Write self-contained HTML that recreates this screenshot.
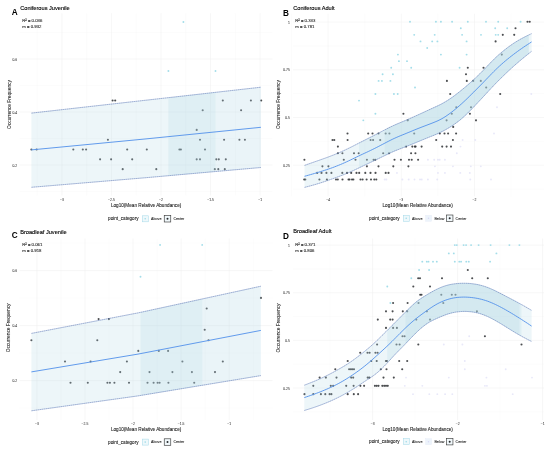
<!DOCTYPE html>
<html lang="en"><head><meta charset="utf-8"><title>Occurrence frequency vs mean relative abundance</title>
<style>html,body{margin:0;padding:0;background:#fff;overflow:hidden}svg{display:block}text{font-family:"Liberation Sans", Arial, sans-serif}</style></head><body>
<svg width="550" height="451" viewBox="0 0 550 451">
<rect width="550" height="451" fill="#fff"/>
<g><line x1="37.13" y1="13.2" x2="37.13" y2="195.5" stroke="#f4f4f4" stroke-width="0.3"/><line x1="86.68" y1="13.2" x2="86.68" y2="195.5" stroke="#f4f4f4" stroke-width="0.3"/><line x1="136.23" y1="13.2" x2="136.23" y2="195.5" stroke="#f4f4f4" stroke-width="0.3"/><line x1="185.78" y1="13.2" x2="185.78" y2="195.5" stroke="#f4f4f4" stroke-width="0.3"/><line x1="235.33" y1="13.2" x2="235.33" y2="195.5" stroke="#f4f4f4" stroke-width="0.3"/><line x1="19.5" y1="191.5" x2="272.5" y2="191.5" stroke="#f4f4f4" stroke-width="0.3"/><line x1="19.5" y1="138.5" x2="272.5" y2="138.5" stroke="#f4f4f4" stroke-width="0.3"/><line x1="19.5" y1="85.5" x2="272.5" y2="85.5" stroke="#f4f4f4" stroke-width="0.3"/><line x1="19.5" y1="32.5" x2="272.5" y2="32.5" stroke="#f4f4f4" stroke-width="0.3"/><line x1="61.9" y1="13.2" x2="61.9" y2="195.5" stroke="#efefef" stroke-width="0.5"/><line x1="111.45" y1="13.2" x2="111.45" y2="195.5" stroke="#efefef" stroke-width="0.5"/><line x1="161" y1="13.2" x2="161" y2="195.5" stroke="#efefef" stroke-width="0.5"/><line x1="210.55" y1="13.2" x2="210.55" y2="195.5" stroke="#efefef" stroke-width="0.5"/><line x1="260.1" y1="13.2" x2="260.1" y2="195.5" stroke="#efefef" stroke-width="0.5"/><line x1="19.5" y1="165" x2="272.5" y2="165" stroke="#efefef" stroke-width="0.5"/><line x1="19.5" y1="112" x2="272.5" y2="112" stroke="#efefef" stroke-width="0.5"/><line x1="19.5" y1="59" x2="272.5" y2="59" stroke="#efefef" stroke-width="0.5"/></g>
<g><circle cx="183.4" cy="22" r="0.95" fill="#9edbe8" fill-opacity="0.95"/><circle cx="168.4" cy="71.05" r="0.95" fill="#9edbe8" fill-opacity="0.95"/><circle cx="215.5" cy="71.05" r="0.95" fill="#9edbe8" fill-opacity="0.95"/><circle cx="31.4" cy="149.53" r="1.05" fill="#24272b" fill-opacity="0.82"/><circle cx="36.6" cy="149.53" r="1.05" fill="#24272b" fill-opacity="0.82"/><circle cx="73.3" cy="149.53" r="1.05" fill="#24272b" fill-opacity="0.82"/><circle cx="82.8" cy="149.53" r="1.05" fill="#24272b" fill-opacity="0.82"/><circle cx="86.1" cy="149.53" r="1.05" fill="#24272b" fill-opacity="0.82"/><circle cx="100.1" cy="159.34" r="1.05" fill="#24272b" fill-opacity="0.82"/><circle cx="107.9" cy="139.72" r="1.05" fill="#24272b" fill-opacity="0.82"/><circle cx="111.1" cy="159.34" r="1.05" fill="#24272b" fill-opacity="0.82"/><circle cx="112.6" cy="100.48" r="1.05" fill="#24272b" fill-opacity="0.82"/><circle cx="115.2" cy="100.48" r="1.05" fill="#24272b" fill-opacity="0.82"/><circle cx="122.7" cy="169.15" r="1.05" fill="#24272b" fill-opacity="0.82"/><circle cx="127.2" cy="149.53" r="1.05" fill="#24272b" fill-opacity="0.82"/><circle cx="132.2" cy="159.34" r="1.05" fill="#24272b" fill-opacity="0.82"/><circle cx="146.8" cy="149.53" r="1.05" fill="#24272b" fill-opacity="0.82"/><circle cx="156.3" cy="169.15" r="1.05" fill="#24272b" fill-opacity="0.82"/><circle cx="179.4" cy="149.53" r="1.05" fill="#24272b" fill-opacity="0.82"/><circle cx="180.9" cy="149.53" r="1.05" fill="#24272b" fill-opacity="0.82"/><circle cx="196.7" cy="129.91" r="1.05" fill="#24272b" fill-opacity="0.82"/><circle cx="196.7" cy="159.34" r="1.05" fill="#24272b" fill-opacity="0.82"/><circle cx="200" cy="139.72" r="1.05" fill="#24272b" fill-opacity="0.82"/><circle cx="200" cy="159.34" r="1.05" fill="#24272b" fill-opacity="0.82"/><circle cx="202.7" cy="110.29" r="1.05" fill="#24272b" fill-opacity="0.82"/><circle cx="205" cy="149.53" r="1.05" fill="#24272b" fill-opacity="0.82"/><circle cx="214.8" cy="169.15" r="1.05" fill="#24272b" fill-opacity="0.82"/><circle cx="216.3" cy="159.34" r="1.05" fill="#24272b" fill-opacity="0.82"/><circle cx="218.3" cy="169.15" r="1.05" fill="#24272b" fill-opacity="0.82"/><circle cx="218.8" cy="159.34" r="1.05" fill="#24272b" fill-opacity="0.82"/><circle cx="222.8" cy="100.48" r="1.05" fill="#24272b" fill-opacity="0.82"/><circle cx="224.1" cy="139.72" r="1.05" fill="#24272b" fill-opacity="0.82"/><circle cx="224.8" cy="169.15" r="1.05" fill="#24272b" fill-opacity="0.82"/><circle cx="225.8" cy="159.34" r="1.05" fill="#24272b" fill-opacity="0.82"/><circle cx="239.4" cy="139.72" r="1.05" fill="#24272b" fill-opacity="0.82"/><circle cx="241.1" cy="110.29" r="1.05" fill="#24272b" fill-opacity="0.82"/><circle cx="244.9" cy="139.72" r="1.05" fill="#24272b" fill-opacity="0.82"/><circle cx="250.9" cy="100.48" r="1.05" fill="#24272b" fill-opacity="0.82"/><circle cx="261.2" cy="100.48" r="1.05" fill="#24272b" fill-opacity="0.82"/></g>
<path d="M31.4 113.1 L146 100.2 L260.9 87.2 L260.9 167.5 L146 177.7 L31.4 187.3 Z" fill="#add8e6" fill-opacity="0.225"/>
<path d="M168.4 97.67 L215.5 92.34 L215.5 171.53 L168.4 175.71 Z" fill="#add8e6" fill-opacity="0.225"/>
<path d="M215.5 92.34 L260.9 87.2 L260.9 167.5 L215.5 171.53 Z" fill="#add8e6" fill-opacity="0.04"/>
<path d="M31.4 113.1 L146 100.2 L260.9 87.2" fill="none" stroke="#5b8fe0" stroke-width="0.3" stroke-opacity="0.9"/>
<path d="M31.4 187.3 L146 177.7 L260.9 167.5" fill="none" stroke="#5b8fe0" stroke-width="0.3" stroke-opacity="0.9"/>
<path d="M31.4 113.1 L146 100.2 L260.9 87.2" fill="none" stroke="#2a2f6e" stroke-width="0.32" stroke-dasharray="1.5 0.6" stroke-opacity="0.85"/>
<path d="M31.4 187.3 L146 177.7 L260.9 167.5" fill="none" stroke="#2a2f6e" stroke-width="0.32" stroke-dasharray="1.5 0.6" stroke-opacity="0.85"/>
<path d="M31.4 149.9 L146 138.9 L260.9 127.3" fill="none" stroke="#5a96eb" stroke-width="0.95"/>
<g><text x="11.8" y="15.2" font-size="8.2" font-weight="bold" fill="#000">A</text><text x="20.2" y="9.7" font-size="5.65" fill="#000" stroke="#000" stroke-width="0.12">Coniferous Juvenile</text><text x="22.2" y="22.1" font-size="4.3" fill="#1a1a1a" stroke="#1a1a1a" stroke-width="0.08">R² = 0.036</text><text x="22.2" y="28.1" font-size="4.3" fill="#1a1a1a" stroke="#1a1a1a" stroke-width="0.08">m = 0.932</text><text x="61.9" y="201" font-size="3.4" fill="#3d3d3d" stroke="#3d3d3d" stroke-width="0.06" text-anchor="middle">−3</text><text x="111.45" y="201" font-size="3.4" fill="#3d3d3d" stroke="#3d3d3d" stroke-width="0.06" text-anchor="middle">−2.5</text><text x="161" y="201" font-size="3.4" fill="#3d3d3d" stroke="#3d3d3d" stroke-width="0.06" text-anchor="middle">−2</text><text x="210.55" y="201" font-size="3.4" fill="#3d3d3d" stroke="#3d3d3d" stroke-width="0.06" text-anchor="middle">−1.5</text><text x="260.1" y="201" font-size="3.4" fill="#3d3d3d" stroke="#3d3d3d" stroke-width="0.06" text-anchor="middle">−1</text><text x="17.2" y="166.6" font-size="3.4" fill="#3d3d3d" stroke="#3d3d3d" stroke-width="0.06" text-anchor="end">0.2</text><text x="17.2" y="113.6" font-size="3.4" fill="#3d3d3d" stroke="#3d3d3d" stroke-width="0.06" text-anchor="end">0.4</text><text x="17.2" y="60.6" font-size="3.4" fill="#3d3d3d" stroke="#3d3d3d" stroke-width="0.06" text-anchor="end">0.6</text><text x="146.1" y="207.2" font-size="4.68" fill="#1a1a1a" stroke="#1a1a1a" stroke-width="0.08" text-anchor="middle">Log10(Mean Relative Abundance)</text><text transform="translate(10.7 104.5) rotate(-90)" font-size="4.8" fill="#1a1a1a" stroke="#1a1a1a" stroke-width="0.08" text-anchor="middle">Occurrence Frequency</text><text x="108.1" y="220.4" font-size="4.65" fill="#1a1a1a" stroke="#1a1a1a" stroke-width="0.08">point_category</text><rect x="142.3" y="215.8" width="6" height="6" fill="#eef8fb" stroke="#a8dbea" stroke-width="0.55"/><circle cx="145.2" cy="218.8" r="0.8" fill="#9edbe8"/><text x="151.1" y="220.05" font-size="3.65" fill="#1a1a1a" stroke="#1a1a1a" stroke-width="0.07">Above</text><rect x="164.25" y="215.5" width="6.5" height="6.5" fill="#f1f8fb" stroke="#3a3a3a" stroke-width="0.65"/><circle cx="167.5" cy="218.8" r="1.0" fill="#24272b"/><text x="173.4" y="220.05" font-size="3.65" fill="#1a1a1a" stroke="#1a1a1a" stroke-width="0.07">Center</text></g>
<g><line x1="60.94" y1="238.5" x2="60.94" y2="420" stroke="#f4f4f4" stroke-width="0.3"/><line x1="109.01" y1="238.5" x2="109.01" y2="420" stroke="#f4f4f4" stroke-width="0.3"/><line x1="157.09" y1="238.5" x2="157.09" y2="420" stroke="#f4f4f4" stroke-width="0.3"/><line x1="205.16" y1="238.5" x2="205.16" y2="420" stroke="#f4f4f4" stroke-width="0.3"/><line x1="253.24" y1="238.5" x2="253.24" y2="420" stroke="#f4f4f4" stroke-width="0.3"/><line x1="19.5" y1="408.1" x2="272.5" y2="408.1" stroke="#f4f4f4" stroke-width="0.3"/><line x1="19.5" y1="353.1" x2="272.5" y2="353.1" stroke="#f4f4f4" stroke-width="0.3"/><line x1="19.5" y1="298.1" x2="272.5" y2="298.1" stroke="#f4f4f4" stroke-width="0.3"/><line x1="19.5" y1="243.1" x2="272.5" y2="243.1" stroke="#f4f4f4" stroke-width="0.3"/><line x1="36.9" y1="238.5" x2="36.9" y2="420" stroke="#efefef" stroke-width="0.5"/><line x1="84.97" y1="238.5" x2="84.97" y2="420" stroke="#efefef" stroke-width="0.5"/><line x1="133.05" y1="238.5" x2="133.05" y2="420" stroke="#efefef" stroke-width="0.5"/><line x1="181.12" y1="238.5" x2="181.12" y2="420" stroke="#efefef" stroke-width="0.5"/><line x1="229.2" y1="238.5" x2="229.2" y2="420" stroke="#efefef" stroke-width="0.5"/><line x1="19.5" y1="380.6" x2="272.5" y2="380.6" stroke="#efefef" stroke-width="0.5"/><line x1="19.5" y1="325.6" x2="272.5" y2="325.6" stroke="#efefef" stroke-width="0.5"/><line x1="19.5" y1="270.6" x2="272.5" y2="270.6" stroke="#efefef" stroke-width="0.5"/></g>
<g><circle cx="160.1" cy="244.9" r="0.95" fill="#9edbe8" fill-opacity="0.95"/><circle cx="202.2" cy="244.9" r="0.95" fill="#9edbe8" fill-opacity="0.95"/><circle cx="140.5" cy="276.7" r="0.95" fill="#9edbe8" fill-opacity="0.95"/><circle cx="31.4" cy="340.3" r="1.05" fill="#24272b" fill-opacity="0.82"/><circle cx="97.3" cy="340.3" r="1.05" fill="#24272b" fill-opacity="0.82"/><circle cx="65" cy="361.5" r="1.05" fill="#24272b" fill-opacity="0.82"/><circle cx="90.6" cy="361.5" r="1.05" fill="#24272b" fill-opacity="0.82"/><circle cx="126.9" cy="361.5" r="1.05" fill="#24272b" fill-opacity="0.82"/><circle cx="120.2" cy="372.1" r="1.05" fill="#24272b" fill-opacity="0.82"/><circle cx="70.5" cy="382.7" r="1.05" fill="#24272b" fill-opacity="0.82"/><circle cx="87.8" cy="382.7" r="1.05" fill="#24272b" fill-opacity="0.82"/><circle cx="107.4" cy="382.7" r="1.05" fill="#24272b" fill-opacity="0.82"/><circle cx="109.9" cy="382.7" r="1.05" fill="#24272b" fill-opacity="0.82"/><circle cx="114.4" cy="382.7" r="1.05" fill="#24272b" fill-opacity="0.82"/><circle cx="129" cy="382.7" r="1.05" fill="#24272b" fill-opacity="0.82"/><circle cx="98.6" cy="319.1" r="1.05" fill="#24272b" fill-opacity="0.82"/><circle cx="108.9" cy="319.1" r="1.05" fill="#24272b" fill-opacity="0.82"/><circle cx="260.9" cy="297.9" r="1.05" fill="#24272b" fill-opacity="0.82"/><circle cx="206.7" cy="308.5" r="1.05" fill="#24272b" fill-opacity="0.82"/><circle cx="204.7" cy="329.7" r="1.05" fill="#24272b" fill-opacity="0.82"/><circle cx="208.5" cy="340.3" r="1.05" fill="#24272b" fill-opacity="0.82"/><circle cx="138.3" cy="350.9" r="1.05" fill="#24272b" fill-opacity="0.82"/><circle cx="158.8" cy="350.9" r="1.05" fill="#24272b" fill-opacity="0.82"/><circle cx="168.1" cy="350.9" r="1.05" fill="#24272b" fill-opacity="0.82"/><circle cx="182.4" cy="361.5" r="1.05" fill="#24272b" fill-opacity="0.82"/><circle cx="222.8" cy="361.5" r="1.05" fill="#24272b" fill-opacity="0.82"/><circle cx="149.5" cy="372.1" r="1.05" fill="#24272b" fill-opacity="0.82"/><circle cx="172.4" cy="372.1" r="1.05" fill="#24272b" fill-opacity="0.82"/><circle cx="191.9" cy="372.1" r="1.05" fill="#24272b" fill-opacity="0.82"/><circle cx="215" cy="372.1" r="1.05" fill="#24272b" fill-opacity="0.82"/><circle cx="147.5" cy="382.7" r="1.05" fill="#24272b" fill-opacity="0.82"/><circle cx="153.6" cy="382.7" r="1.05" fill="#24272b" fill-opacity="0.82"/><circle cx="157.6" cy="382.7" r="1.05" fill="#24272b" fill-opacity="0.82"/><circle cx="159.6" cy="382.7" r="1.05" fill="#24272b" fill-opacity="0.82"/><circle cx="168.4" cy="382.7" r="1.05" fill="#24272b" fill-opacity="0.82"/><circle cx="194.2" cy="382.7" r="1.05" fill="#24272b" fill-opacity="0.82"/></g>
<path d="M31.4 333.4 L138 312.9 L260.9 286.2 L260.9 375.6 L138 395.9 L31.4 410.8 Z" fill="#add8e6" fill-opacity="0.225"/>
<path d="M140.5 312.36 L202.2 298.95 L202.2 385.3 L140.5 395.49 Z" fill="#add8e6" fill-opacity="0.225"/>
<path d="M202.2 298.95 L260.9 286.2 L260.9 375.6 L202.2 385.3 Z" fill="#add8e6" fill-opacity="0.04"/>
<path d="M31.4 333.4 L138 312.9 L260.9 286.2" fill="none" stroke="#5b8fe0" stroke-width="0.3" stroke-opacity="0.9"/>
<path d="M31.4 410.8 L138 395.9 L260.9 375.6" fill="none" stroke="#5b8fe0" stroke-width="0.3" stroke-opacity="0.9"/>
<path d="M31.4 333.4 L138 312.9 L260.9 286.2" fill="none" stroke="#2a2f6e" stroke-width="0.32" stroke-dasharray="1.5 0.6" stroke-opacity="0.85"/>
<path d="M31.4 410.8 L138 395.9 L260.9 375.6" fill="none" stroke="#2a2f6e" stroke-width="0.32" stroke-dasharray="1.5 0.6" stroke-opacity="0.85"/>
<path d="M31.4 371.9 L138 354.1 L260.9 330.4" fill="none" stroke="#5a96eb" stroke-width="0.95"/>
<g><text x="11.8" y="238.3" font-size="8.2" font-weight="bold" fill="#000">C</text><text x="20.2" y="233.7" font-size="5.65" fill="#000" stroke="#000" stroke-width="0.12">Broadleaf Juvenile</text><text x="22.2" y="245.7" font-size="4.3" fill="#1a1a1a" stroke="#1a1a1a" stroke-width="0.08">R² = 0.061</text><text x="22.2" y="251.7" font-size="4.3" fill="#1a1a1a" stroke="#1a1a1a" stroke-width="0.08">m = 0.918</text><text x="36.9" y="424.8" font-size="3.4" fill="#3d3d3d" stroke="#3d3d3d" stroke-width="0.06" text-anchor="middle">−3</text><text x="84.97" y="424.8" font-size="3.4" fill="#3d3d3d" stroke="#3d3d3d" stroke-width="0.06" text-anchor="middle">−2.5</text><text x="133.05" y="424.8" font-size="3.4" fill="#3d3d3d" stroke="#3d3d3d" stroke-width="0.06" text-anchor="middle">−2</text><text x="181.12" y="424.8" font-size="3.4" fill="#3d3d3d" stroke="#3d3d3d" stroke-width="0.06" text-anchor="middle">−1.5</text><text x="229.2" y="424.8" font-size="3.4" fill="#3d3d3d" stroke="#3d3d3d" stroke-width="0.06" text-anchor="middle">−1</text><text x="17.2" y="382.2" font-size="3.4" fill="#3d3d3d" stroke="#3d3d3d" stroke-width="0.06" text-anchor="end">0.2</text><text x="17.2" y="327.2" font-size="3.4" fill="#3d3d3d" stroke="#3d3d3d" stroke-width="0.06" text-anchor="end">0.4</text><text x="17.2" y="272.2" font-size="3.4" fill="#3d3d3d" stroke="#3d3d3d" stroke-width="0.06" text-anchor="end">0.6</text><text x="146.1" y="430.5" font-size="4.68" fill="#1a1a1a" stroke="#1a1a1a" stroke-width="0.08" text-anchor="middle">Log10(Mean Relative Abundance)</text><text transform="translate(10.4 327.9) rotate(-90)" font-size="4.8" fill="#1a1a1a" stroke="#1a1a1a" stroke-width="0.08" text-anchor="middle">Occurrence Frequency</text><text x="108.1" y="443.7" font-size="4.65" fill="#1a1a1a" stroke="#1a1a1a" stroke-width="0.08">point_category</text><rect x="142.3" y="439.1" width="6" height="6" fill="#eef8fb" stroke="#a8dbea" stroke-width="0.55"/><circle cx="145.2" cy="442.1" r="0.8" fill="#9edbe8"/><text x="151.1" y="443.35" font-size="3.65" fill="#1a1a1a" stroke="#1a1a1a" stroke-width="0.07">Above</text><rect x="164.25" y="438.8" width="6.5" height="6.5" fill="#f1f8fb" stroke="#3a3a3a" stroke-width="0.65"/><circle cx="167.5" cy="442.1" r="1.0" fill="#24272b"/><text x="173.4" y="443.35" font-size="3.65" fill="#1a1a1a" stroke="#1a1a1a" stroke-width="0.07">Center</text></g>
<g><line x1="291.5" y1="13.7" x2="291.5" y2="196.3" stroke="#f4f4f4" stroke-width="0.3"/><line x1="364.7" y1="13.7" x2="364.7" y2="196.3" stroke="#f4f4f4" stroke-width="0.3"/><line x1="437.9" y1="13.7" x2="437.9" y2="196.3" stroke="#f4f4f4" stroke-width="0.3"/><line x1="511.1" y1="13.7" x2="511.1" y2="196.3" stroke="#f4f4f4" stroke-width="0.3"/><line x1="293" y1="189.05" x2="544" y2="189.05" stroke="#f4f4f4" stroke-width="0.3"/><line x1="293" y1="141.35" x2="544" y2="141.35" stroke="#f4f4f4" stroke-width="0.3"/><line x1="293" y1="93.65" x2="544" y2="93.65" stroke="#f4f4f4" stroke-width="0.3"/><line x1="293" y1="45.95" x2="544" y2="45.95" stroke="#f4f4f4" stroke-width="0.3"/><line x1="328.1" y1="13.7" x2="328.1" y2="196.3" stroke="#efefef" stroke-width="0.5"/><line x1="401.3" y1="13.7" x2="401.3" y2="196.3" stroke="#efefef" stroke-width="0.5"/><line x1="474.5" y1="13.7" x2="474.5" y2="196.3" stroke="#efefef" stroke-width="0.5"/><line x1="293" y1="165.2" x2="544" y2="165.2" stroke="#efefef" stroke-width="0.5"/><line x1="293" y1="117.5" x2="544" y2="117.5" stroke="#efefef" stroke-width="0.5"/><line x1="293" y1="69.8" x2="544" y2="69.8" stroke="#efefef" stroke-width="0.5"/><line x1="293" y1="22.1" x2="544" y2="22.1" stroke="#efefef" stroke-width="0.5"/></g>
<g><circle cx="531.3" cy="94.03" r="0.95" fill="#d9d9f5" fill-opacity="0.6"/><circle cx="497" cy="107.18" r="0.95" fill="#d9d9f5" fill-opacity="0.6"/><circle cx="494" cy="133.47" r="0.95" fill="#d9d9f5" fill-opacity="0.6"/><circle cx="462.6" cy="140.05" r="0.95" fill="#d9d9f5" fill-opacity="0.6"/><circle cx="475.3" cy="140.05" r="0.95" fill="#d9d9f5" fill-opacity="0.6"/><circle cx="460.5" cy="146.62" r="0.95" fill="#d9d9f5" fill-opacity="0.6"/><circle cx="456.8" cy="153.2" r="0.95" fill="#d9d9f5" fill-opacity="0.6"/><circle cx="427.9" cy="159.78" r="0.95" fill="#d9d9f5" fill-opacity="0.6"/><circle cx="434.2" cy="159.78" r="0.95" fill="#d9d9f5" fill-opacity="0.6"/><circle cx="437.9" cy="159.78" r="0.95" fill="#d9d9f5" fill-opacity="0.6"/><circle cx="439.7" cy="159.78" r="0.95" fill="#d9d9f5" fill-opacity="0.6"/><circle cx="444.9" cy="159.78" r="0.95" fill="#d9d9f5" fill-opacity="0.6"/><circle cx="434.9" cy="166.35" r="0.95" fill="#d9d9f5" fill-opacity="0.6"/><circle cx="452.9" cy="166.35" r="0.95" fill="#d9d9f5" fill-opacity="0.6"/><circle cx="470.8" cy="166.35" r="0.95" fill="#d9d9f5" fill-opacity="0.6"/><circle cx="480.8" cy="166.35" r="0.95" fill="#d9d9f5" fill-opacity="0.6"/><circle cx="396.9" cy="172.92" r="0.95" fill="#d9d9f5" fill-opacity="0.6"/><circle cx="437.9" cy="172.92" r="0.95" fill="#d9d9f5" fill-opacity="0.6"/><circle cx="444.9" cy="172.92" r="0.95" fill="#d9d9f5" fill-opacity="0.6"/><circle cx="460.3" cy="172.92" r="0.95" fill="#d9d9f5" fill-opacity="0.6"/><circle cx="469.8" cy="172.92" r="0.95" fill="#d9d9f5" fill-opacity="0.6"/><circle cx="384.7" cy="179.5" r="0.95" fill="#d9d9f5" fill-opacity="0.6"/><circle cx="386.4" cy="179.5" r="0.95" fill="#d9d9f5" fill-opacity="0.6"/><circle cx="402.4" cy="179.5" r="0.95" fill="#d9d9f5" fill-opacity="0.6"/><circle cx="408.7" cy="179.5" r="0.95" fill="#d9d9f5" fill-opacity="0.6"/><circle cx="414.5" cy="179.5" r="0.95" fill="#d9d9f5" fill-opacity="0.6"/><circle cx="420" cy="179.5" r="0.95" fill="#d9d9f5" fill-opacity="0.6"/><circle cx="421.7" cy="179.5" r="0.95" fill="#d9d9f5" fill-opacity="0.6"/><circle cx="427.9" cy="179.5" r="0.95" fill="#d9d9f5" fill-opacity="0.6"/><circle cx="437.2" cy="179.5" r="0.95" fill="#d9d9f5" fill-opacity="0.6"/><circle cx="470.3" cy="179.5" r="0.95" fill="#d9d9f5" fill-opacity="0.6"/><circle cx="491" cy="179.5" r="0.95" fill="#d9d9f5" fill-opacity="0.6"/><circle cx="410" cy="21.7" r="0.95" fill="#9edbe8" fill-opacity="0.95"/><circle cx="397.9" cy="54.58" r="0.95" fill="#9edbe8" fill-opacity="0.95"/><circle cx="398.9" cy="61.15" r="0.95" fill="#9edbe8" fill-opacity="0.95"/><circle cx="407" cy="61.15" r="0.95" fill="#9edbe8" fill-opacity="0.95"/><circle cx="391.2" cy="67.72" r="0.95" fill="#9edbe8" fill-opacity="0.95"/><circle cx="411.2" cy="67.72" r="0.95" fill="#9edbe8" fill-opacity="0.95"/><circle cx="382.6" cy="74.3" r="0.95" fill="#9edbe8" fill-opacity="0.95"/><circle cx="392.9" cy="74.3" r="0.95" fill="#9edbe8" fill-opacity="0.95"/><circle cx="378.6" cy="80.88" r="0.95" fill="#9edbe8" fill-opacity="0.95"/><circle cx="381.9" cy="80.88" r="0.95" fill="#9edbe8" fill-opacity="0.95"/><circle cx="390.4" cy="80.88" r="0.95" fill="#9edbe8" fill-opacity="0.95"/><circle cx="375.4" cy="94.03" r="0.95" fill="#9edbe8" fill-opacity="0.95"/><circle cx="393.9" cy="94.03" r="0.95" fill="#9edbe8" fill-opacity="0.95"/><circle cx="397.7" cy="94.03" r="0.95" fill="#9edbe8" fill-opacity="0.95"/><circle cx="359" cy="100.6" r="0.95" fill="#9edbe8" fill-opacity="0.95"/><circle cx="435.9" cy="21.7" r="0.95" fill="#9edbe8" fill-opacity="0.95"/><circle cx="440.9" cy="21.7" r="0.95" fill="#9edbe8" fill-opacity="0.95"/><circle cx="452.1" cy="21.7" r="0.95" fill="#9edbe8" fill-opacity="0.95"/><circle cx="467.8" cy="21.7" r="0.95" fill="#9edbe8" fill-opacity="0.95"/><circle cx="486" cy="21.7" r="0.95" fill="#9edbe8" fill-opacity="0.95"/><circle cx="498.2" cy="21.7" r="0.95" fill="#9edbe8" fill-opacity="0.95"/><circle cx="520.6" cy="21.7" r="0.95" fill="#9edbe8" fill-opacity="0.95"/><circle cx="460.8" cy="28.27" r="0.95" fill="#9edbe8" fill-opacity="0.95"/><circle cx="495.2" cy="28.27" r="0.95" fill="#9edbe8" fill-opacity="0.95"/><circle cx="507.2" cy="28.27" r="0.95" fill="#9edbe8" fill-opacity="0.95"/><circle cx="414.2" cy="34.85" r="0.95" fill="#9edbe8" fill-opacity="0.95"/><circle cx="434.7" cy="34.85" r="0.95" fill="#9edbe8" fill-opacity="0.95"/><circle cx="462.1" cy="34.85" r="0.95" fill="#9edbe8" fill-opacity="0.95"/><circle cx="481" cy="34.85" r="0.95" fill="#9edbe8" fill-opacity="0.95"/><circle cx="495.7" cy="34.85" r="0.95" fill="#9edbe8" fill-opacity="0.95"/><circle cx="498.2" cy="34.85" r="0.95" fill="#9edbe8" fill-opacity="0.95"/><circle cx="420.5" cy="41.42" r="0.95" fill="#9edbe8" fill-opacity="0.95"/><circle cx="432.2" cy="41.42" r="0.95" fill="#9edbe8" fill-opacity="0.95"/><circle cx="437.4" cy="41.42" r="0.95" fill="#9edbe8" fill-opacity="0.95"/><circle cx="466.6" cy="41.42" r="0.95" fill="#9edbe8" fill-opacity="0.95"/><circle cx="427.2" cy="48" r="0.95" fill="#9edbe8" fill-opacity="0.95"/><circle cx="440.9" cy="54.58" r="0.95" fill="#9edbe8" fill-opacity="0.95"/><circle cx="466.6" cy="54.58" r="0.95" fill="#9edbe8" fill-opacity="0.95"/><circle cx="459.6" cy="67.72" r="0.95" fill="#9edbe8" fill-opacity="0.95"/><circle cx="415" cy="87.45" r="0.95" fill="#9edbe8" fill-opacity="0.95"/><circle cx="363.3" cy="120.33" r="0.95" fill="#9edbe8" fill-opacity="0.95"/><circle cx="375.4" cy="113.75" r="0.95" fill="#9edbe8" fill-opacity="0.95"/><circle cx="527.5" cy="21.7" r="1.05" fill="#24272b" fill-opacity="0.82"/><circle cx="529.7" cy="21.7" r="1.05" fill="#24272b" fill-opacity="0.82"/><circle cx="515.5" cy="28.27" r="1.05" fill="#24272b" fill-opacity="0.82"/><circle cx="502.8" cy="34.85" r="1.05" fill="#24272b" fill-opacity="0.82"/><circle cx="514.2" cy="34.85" r="1.05" fill="#24272b" fill-opacity="0.82"/><circle cx="495.6" cy="41.42" r="1.05" fill="#24272b" fill-opacity="0.82"/><circle cx="501.8" cy="54.58" r="1.05" fill="#24272b" fill-opacity="0.82"/><circle cx="467.8" cy="67.72" r="1.05" fill="#24272b" fill-opacity="0.82"/><circle cx="483.5" cy="67.72" r="1.05" fill="#24272b" fill-opacity="0.82"/><circle cx="466" cy="74.3" r="1.05" fill="#24272b" fill-opacity="0.82"/><circle cx="446.9" cy="80.88" r="1.05" fill="#24272b" fill-opacity="0.82"/><circle cx="466.8" cy="80.88" r="1.05" fill="#24272b" fill-opacity="0.82"/><circle cx="473.2" cy="80.88" r="1.05" fill="#24272b" fill-opacity="0.82"/><circle cx="480.8" cy="80.88" r="1.05" fill="#24272b" fill-opacity="0.82"/><circle cx="486.2" cy="87.45" r="1.05" fill="#24272b" fill-opacity="0.82"/><circle cx="450.2" cy="94.03" r="1.05" fill="#24272b" fill-opacity="0.82"/><circle cx="500.2" cy="94.03" r="1.05" fill="#24272b" fill-opacity="0.82"/><circle cx="456.3" cy="107.18" r="1.05" fill="#24272b" fill-opacity="0.82"/><circle cx="471" cy="107.18" r="1.05" fill="#24272b" fill-opacity="0.82"/><circle cx="403.4" cy="113.75" r="1.05" fill="#24272b" fill-opacity="0.82"/><circle cx="451.8" cy="113.75" r="1.05" fill="#24272b" fill-opacity="0.82"/><circle cx="469.9" cy="113.75" r="1.05" fill="#24272b" fill-opacity="0.82"/><circle cx="407.8" cy="120.33" r="1.05" fill="#24272b" fill-opacity="0.82"/><circle cx="446.6" cy="120.33" r="1.05" fill="#24272b" fill-opacity="0.82"/><circle cx="476" cy="120.33" r="1.05" fill="#24272b" fill-opacity="0.82"/><circle cx="453.2" cy="126.9" r="1.05" fill="#24272b" fill-opacity="0.82"/><circle cx="347.5" cy="133.47" r="1.05" fill="#24272b" fill-opacity="0.82"/><circle cx="368.2" cy="133.47" r="1.05" fill="#24272b" fill-opacity="0.82"/><circle cx="372.5" cy="133.47" r="1.05" fill="#24272b" fill-opacity="0.82"/><circle cx="378.5" cy="133.47" r="1.05" fill="#24272b" fill-opacity="0.82"/><circle cx="385.7" cy="133.47" r="1.05" fill="#24272b" fill-opacity="0.82"/><circle cx="389.4" cy="133.47" r="1.05" fill="#24272b" fill-opacity="0.82"/><circle cx="414.2" cy="133.47" r="1.05" fill="#24272b" fill-opacity="0.82"/><circle cx="439.8" cy="133.47" r="1.05" fill="#24272b" fill-opacity="0.82"/><circle cx="444.5" cy="133.47" r="1.05" fill="#24272b" fill-opacity="0.82"/><circle cx="448.1" cy="133.47" r="1.05" fill="#24272b" fill-opacity="0.82"/><circle cx="456.1" cy="133.47" r="1.05" fill="#24272b" fill-opacity="0.82"/><circle cx="332.5" cy="140.05" r="1.05" fill="#24272b" fill-opacity="0.82"/><circle cx="334.3" cy="140.05" r="1.05" fill="#24272b" fill-opacity="0.82"/><circle cx="347.6" cy="140.05" r="1.05" fill="#24272b" fill-opacity="0.82"/><circle cx="370.6" cy="140.05" r="1.05" fill="#24272b" fill-opacity="0.82"/><circle cx="373.1" cy="140.05" r="1.05" fill="#24272b" fill-opacity="0.82"/><circle cx="380.2" cy="140.05" r="1.05" fill="#24272b" fill-opacity="0.82"/><circle cx="436.2" cy="140.05" r="1.05" fill="#24272b" fill-opacity="0.82"/><circle cx="452.9" cy="140.05" r="1.05" fill="#24272b" fill-opacity="0.82"/><circle cx="337.9" cy="146.62" r="1.05" fill="#24272b" fill-opacity="0.82"/><circle cx="406.1" cy="146.62" r="1.05" fill="#24272b" fill-opacity="0.82"/><circle cx="412.3" cy="146.62" r="1.05" fill="#24272b" fill-opacity="0.82"/><circle cx="414.8" cy="146.62" r="1.05" fill="#24272b" fill-opacity="0.82"/><circle cx="415.6" cy="146.62" r="1.05" fill="#24272b" fill-opacity="0.82"/><circle cx="421.6" cy="146.62" r="1.05" fill="#24272b" fill-opacity="0.82"/><circle cx="442.2" cy="146.62" r="1.05" fill="#24272b" fill-opacity="0.82"/><circle cx="446.6" cy="146.62" r="1.05" fill="#24272b" fill-opacity="0.82"/><circle cx="451" cy="146.62" r="1.05" fill="#24272b" fill-opacity="0.82"/><circle cx="337.9" cy="153.2" r="1.05" fill="#24272b" fill-opacity="0.82"/><circle cx="342.4" cy="153.2" r="1.05" fill="#24272b" fill-opacity="0.82"/><circle cx="354" cy="153.2" r="1.05" fill="#24272b" fill-opacity="0.82"/><circle cx="358.7" cy="153.2" r="1.05" fill="#24272b" fill-opacity="0.82"/><circle cx="383.2" cy="153.2" r="1.05" fill="#24272b" fill-opacity="0.82"/><circle cx="389" cy="153.2" r="1.05" fill="#24272b" fill-opacity="0.82"/><circle cx="411.1" cy="153.2" r="1.05" fill="#24272b" fill-opacity="0.82"/><circle cx="415.4" cy="153.2" r="1.05" fill="#24272b" fill-opacity="0.82"/><circle cx="304.4" cy="159.78" r="1.05" fill="#24272b" fill-opacity="0.82"/><circle cx="343.8" cy="159.78" r="1.05" fill="#24272b" fill-opacity="0.82"/><circle cx="355.5" cy="159.78" r="1.05" fill="#24272b" fill-opacity="0.82"/><circle cx="366.9" cy="159.78" r="1.05" fill="#24272b" fill-opacity="0.82"/><circle cx="373.6" cy="159.78" r="1.05" fill="#24272b" fill-opacity="0.82"/><circle cx="375.3" cy="159.78" r="1.05" fill="#24272b" fill-opacity="0.82"/><circle cx="394.5" cy="159.78" r="1.05" fill="#24272b" fill-opacity="0.82"/><circle cx="400.9" cy="159.78" r="1.05" fill="#24272b" fill-opacity="0.82"/><circle cx="409" cy="159.78" r="1.05" fill="#24272b" fill-opacity="0.82"/><circle cx="411.7" cy="159.78" r="1.05" fill="#24272b" fill-opacity="0.82"/><circle cx="418.1" cy="159.78" r="1.05" fill="#24272b" fill-opacity="0.82"/><circle cx="322.4" cy="166.35" r="1.05" fill="#24272b" fill-opacity="0.82"/><circle cx="328.4" cy="166.35" r="1.05" fill="#24272b" fill-opacity="0.82"/><circle cx="366.9" cy="166.35" r="1.05" fill="#24272b" fill-opacity="0.82"/><circle cx="378.5" cy="166.35" r="1.05" fill="#24272b" fill-opacity="0.82"/><circle cx="393.3" cy="166.35" r="1.05" fill="#24272b" fill-opacity="0.82"/><circle cx="408.4" cy="166.35" r="1.05" fill="#24272b" fill-opacity="0.82"/><circle cx="317.2" cy="172.92" r="1.05" fill="#24272b" fill-opacity="0.82"/><circle cx="321.5" cy="172.92" r="1.05" fill="#24272b" fill-opacity="0.82"/><circle cx="326.4" cy="172.92" r="1.05" fill="#24272b" fill-opacity="0.82"/><circle cx="331.4" cy="172.92" r="1.05" fill="#24272b" fill-opacity="0.82"/><circle cx="342.3" cy="172.92" r="1.05" fill="#24272b" fill-opacity="0.82"/><circle cx="347" cy="172.92" r="1.05" fill="#24272b" fill-opacity="0.82"/><circle cx="351.2" cy="172.92" r="1.05" fill="#24272b" fill-opacity="0.82"/><circle cx="356.5" cy="172.92" r="1.05" fill="#24272b" fill-opacity="0.82"/><circle cx="359.2" cy="172.92" r="1.05" fill="#24272b" fill-opacity="0.82"/><circle cx="365.3" cy="172.92" r="1.05" fill="#24272b" fill-opacity="0.82"/><circle cx="370.5" cy="172.92" r="1.05" fill="#24272b" fill-opacity="0.82"/><circle cx="375.5" cy="172.92" r="1.05" fill="#24272b" fill-opacity="0.82"/><circle cx="385.7" cy="172.92" r="1.05" fill="#24272b" fill-opacity="0.82"/><circle cx="388.5" cy="172.92" r="1.05" fill="#24272b" fill-opacity="0.82"/><circle cx="304.2" cy="179.5" r="1.05" fill="#24272b" fill-opacity="0.82"/><circle cx="305.3" cy="179.5" r="1.05" fill="#24272b" fill-opacity="0.82"/><circle cx="319.4" cy="179.5" r="1.05" fill="#24272b" fill-opacity="0.82"/><circle cx="326.9" cy="179.5" r="1.05" fill="#24272b" fill-opacity="0.82"/><circle cx="336" cy="179.5" r="1.05" fill="#24272b" fill-opacity="0.82"/><circle cx="337.8" cy="179.5" r="1.05" fill="#24272b" fill-opacity="0.82"/><circle cx="342.5" cy="179.5" r="1.05" fill="#24272b" fill-opacity="0.82"/><circle cx="348.5" cy="179.5" r="1.05" fill="#24272b" fill-opacity="0.82"/><circle cx="349.5" cy="179.5" r="1.05" fill="#24272b" fill-opacity="0.82"/><circle cx="352" cy="179.5" r="1.05" fill="#24272b" fill-opacity="0.82"/><circle cx="353.4" cy="179.5" r="1.05" fill="#24272b" fill-opacity="0.82"/><circle cx="360.5" cy="179.5" r="1.05" fill="#24272b" fill-opacity="0.82"/><circle cx="362.6" cy="179.5" r="1.05" fill="#24272b" fill-opacity="0.82"/><circle cx="366.6" cy="179.5" r="1.05" fill="#24272b" fill-opacity="0.82"/><circle cx="371" cy="179.5" r="1.05" fill="#24272b" fill-opacity="0.82"/><circle cx="374.3" cy="179.5" r="1.05" fill="#24272b" fill-opacity="0.82"/><circle cx="376.3" cy="179.5" r="1.05" fill="#24272b" fill-opacity="0.82"/></g>
<path d="M304.5 165.4 L306.49 164.69 L308.48 163.99 L310.48 163.28 L312.47 162.59 L314.46 161.89 L316.45 161.2 L318.44 160.51 L320.44 159.81 L322.43 159.11 L324.42 158.4 L326.41 157.68 L328.41 156.94 L330.4 156.19 L332.39 155.42 L334.38 154.64 L336.37 153.83 L338.37 152.99 L340.36 152.14 L342.35 151.25 L344.34 150.35 L346.33 149.41 L348.33 148.45 L350.32 147.47 L352.31 146.47 L354.3 145.45 L356.29 144.43 L358.29 143.4 L360.28 142.38 L362.27 141.36 L364.26 140.35 L366.26 139.35 L368.25 138.35 L370.24 137.35 L372.23 136.34 L374.22 135.33 L376.22 134.32 L378.21 133.29 L380.2 132.25 L382.19 131.2 L384.18 130.16 L386.18 129.13 L388.17 128.11 L390.16 127.12 L392.15 126.16 L394.14 125.24 L396.14 124.36 L398.13 123.51 L400.12 122.68 L402.11 121.85 L404.11 121.01 L406.1 120.16 L408.09 119.3 L410.08 118.42 L412.07 117.53 L414.07 116.64 L416.06 115.75 L418.05 114.85 L420.04 113.95 L422.03 113.04 L424.03 112.12 L426.02 111.19 L428.01 110.25 L430 109.33 L431.99 108.42 L433.99 107.52 L435.98 106.62 L437.97 105.7 L439.96 104.73 L441.96 103.69 L443.95 102.59 L445.94 101.41 L447.93 100.16 L449.92 98.85 L451.92 97.47 L453.91 96.04 L455.9 94.55 L457.89 93.02 L459.88 91.44 L461.88 89.84 L463.87 88.2 L465.86 86.54 L467.85 84.85 L469.84 83.12 L471.84 81.36 L473.83 79.54 L475.82 77.68 L477.81 75.77 L479.81 73.81 L481.8 71.81 L483.79 69.77 L485.78 67.7 L487.77 65.61 L489.77 63.52 L491.76 61.46 L493.75 59.46 L495.74 57.54 L497.73 55.69 L499.73 53.93 L501.72 52.24 L503.71 50.61 L505.7 49.04 L507.69 47.51 L509.69 46.05 L511.68 44.64 L513.67 43.29 L515.66 42.01 L517.66 40.8 L519.65 39.64 L521.64 38.54 L523.63 37.49 L525.62 36.48 L527.62 35.51 L528.8 34.94 L528.8 53.54 L527.62 54.49 L525.62 56.1 L523.63 57.72 L521.64 59.36 L519.65 61.03 L517.66 62.72 L515.66 64.45 L513.67 66.21 L511.68 68.01 L509.69 69.83 L507.69 71.69 L505.7 73.58 L503.71 75.49 L501.72 77.43 L499.73 79.4 L497.73 81.4 L495.74 83.43 L493.75 85.5 L491.76 87.61 L489.77 89.74 L487.77 91.89 L485.78 94.04 L483.79 96.19 L481.8 98.34 L479.81 100.48 L477.81 102.61 L475.82 104.72 L473.83 106.82 L471.84 108.9 L469.84 110.93 L467.85 112.93 L465.86 114.86 L463.87 116.71 L461.88 118.47 L459.88 120.14 L457.89 121.7 L455.9 123.16 L453.91 124.55 L451.92 125.88 L449.92 127.14 L447.93 128.35 L445.94 129.51 L443.95 130.6 L441.96 131.64 L439.96 132.61 L437.97 133.53 L435.98 134.4 L433.99 135.23 L431.99 136.04 L430 136.83 L428.01 137.62 L426.02 138.42 L424.03 139.23 L422.03 140.05 L420.04 140.88 L418.05 141.71 L416.06 142.53 L414.07 143.35 L412.07 144.16 L410.08 144.96 L408.09 145.76 L406.1 146.54 L404.11 147.31 L402.11 148.08 L400.12 148.84 L398.13 149.61 L396.14 150.4 L394.14 151.23 L392.15 152.1 L390.16 153.01 L388.17 153.94 L386.18 154.9 L384.18 155.86 L382.19 156.83 L380.2 157.8 L378.21 158.76 L376.22 159.72 L374.22 160.66 L372.23 161.6 L370.24 162.54 L368.25 163.48 L366.26 164.43 L364.26 165.37 L362.27 166.32 L360.28 167.28 L358.29 168.22 L356.29 169.16 L354.3 170.09 L352.31 171 L350.32 171.89 L348.33 172.76 L346.33 173.59 L344.34 174.41 L342.35 175.19 L340.36 175.95 L338.37 176.7 L336.37 177.42 L334.38 178.14 L332.39 178.85 L330.4 179.55 L328.41 180.24 L326.41 180.93 L324.42 181.61 L322.43 182.27 L320.44 182.91 L318.44 183.54 L316.45 184.14 L314.46 184.73 L312.47 185.29 L310.48 185.84 L308.48 186.37 L306.49 186.89 L304.5 187.4 Z" fill="#add8e6" fill-opacity="0.225"/>
<path d="M359 143.04 L360.28 142.38 L362.27 141.36 L364.26 140.35 L366.26 139.35 L368.25 138.35 L370.24 137.35 L372.23 136.34 L374.22 135.33 L376.22 134.32 L378.21 133.29 L380.2 132.25 L382.19 131.2 L384.18 130.16 L386.18 129.13 L388.17 128.11 L390.16 127.12 L392.15 126.16 L394.14 125.24 L396.14 124.36 L398.13 123.51 L400.12 122.68 L402.11 121.85 L404.11 121.01 L406.1 120.16 L408.09 119.3 L410.08 118.42 L412.07 117.53 L414.07 116.64 L416.06 115.75 L418.05 114.85 L420.04 113.95 L422.03 113.04 L424.03 112.12 L426.02 111.19 L428.01 110.25 L430 109.33 L431.99 108.42 L433.99 107.52 L435.98 106.62 L437.97 105.7 L439.96 104.73 L441.96 103.69 L443.95 102.59 L445.94 101.41 L447.93 100.16 L449.92 98.85 L451.92 97.47 L453.91 96.04 L455.9 94.55 L457.89 93.02 L459.88 91.44 L461.88 89.84 L463.87 88.2 L465.86 86.54 L467.85 84.85 L469.84 83.12 L471.84 81.36 L473.83 79.54 L475.82 77.68 L477.81 75.77 L479.81 73.81 L481.8 71.81 L483.79 69.77 L485.78 67.7 L487.77 65.61 L489.77 63.52 L491.76 61.46 L493.75 59.46 L495.74 57.54 L497.73 55.69 L499.73 53.93 L501.72 52.24 L503.71 50.61 L505.7 49.04 L507.69 47.51 L509.69 46.05 L511.68 44.64 L513.67 43.29 L515.66 42.01 L517.66 40.8 L519.65 39.64 L521.64 38.54 L523.63 37.49 L525.62 36.48 L527.62 35.51 L528.8 34.94 L528.8 53.54 L527.62 54.49 L525.62 56.1 L523.63 57.72 L521.64 59.36 L519.65 61.03 L517.66 62.72 L515.66 64.45 L513.67 66.21 L511.68 68.01 L509.69 69.83 L507.69 71.69 L505.7 73.58 L503.71 75.49 L501.72 77.43 L499.73 79.4 L497.73 81.4 L495.74 83.43 L493.75 85.5 L491.76 87.61 L489.77 89.74 L487.77 91.89 L485.78 94.04 L483.79 96.19 L481.8 98.34 L479.81 100.48 L477.81 102.61 L475.82 104.72 L473.83 106.82 L471.84 108.9 L469.84 110.93 L467.85 112.93 L465.86 114.86 L463.87 116.71 L461.88 118.47 L459.88 120.14 L457.89 121.7 L455.9 123.16 L453.91 124.55 L451.92 125.88 L449.92 127.14 L447.93 128.35 L445.94 129.51 L443.95 130.6 L441.96 131.64 L439.96 132.61 L437.97 133.53 L435.98 134.4 L433.99 135.23 L431.99 136.04 L430 136.83 L428.01 137.62 L426.02 138.42 L424.03 139.23 L422.03 140.05 L420.04 140.88 L418.05 141.71 L416.06 142.53 L414.07 143.35 L412.07 144.16 L410.08 144.96 L408.09 145.76 L406.1 146.54 L404.11 147.31 L402.11 148.08 L400.12 148.84 L398.13 149.61 L396.14 150.4 L394.14 151.23 L392.15 152.1 L390.16 153.01 L388.17 153.94 L386.18 154.9 L384.18 155.86 L382.19 156.83 L380.2 157.8 L378.21 158.76 L376.22 159.72 L374.22 160.66 L372.23 161.6 L370.24 162.54 L368.25 163.48 L366.26 164.43 L364.26 165.37 L362.27 166.32 L360.28 167.28 L359 167.88 Z" fill="#add8e6" fill-opacity="0.225"/>
<path d="M384.7 129.89 L386.18 129.13 L388.17 128.11 L390.16 127.12 L392.15 126.16 L394.14 125.24 L396.14 124.36 L398.13 123.51 L400.12 122.68 L402.11 121.85 L404.11 121.01 L406.1 120.16 L408.09 119.3 L410.08 118.42 L412.07 117.53 L414.07 116.64 L416.06 115.75 L418.05 114.85 L420.04 113.95 L422.03 113.04 L424.03 112.12 L426.02 111.19 L428.01 110.25 L430 109.33 L431.99 108.42 L433.99 107.52 L435.98 106.62 L437.97 105.7 L439.96 104.73 L441.96 103.69 L443.95 102.59 L445.94 101.41 L447.93 100.16 L449.92 98.85 L451.92 97.47 L453.91 96.04 L455.9 94.55 L457.89 93.02 L459.88 91.44 L461.88 89.84 L463.87 88.2 L465.86 86.54 L467.85 84.85 L469.84 83.12 L471.84 81.36 L473.83 79.54 L475.82 77.68 L477.81 75.77 L479.81 73.81 L481.8 71.81 L483.79 69.77 L485.78 67.7 L487.77 65.61 L489.77 63.52 L491.76 61.46 L493.75 59.46 L495.74 57.54 L497.73 55.69 L499.73 53.93 L501.72 52.24 L503.71 50.61 L505.7 49.04 L507.69 47.51 L509.69 46.05 L511.68 44.64 L513.67 43.29 L515.66 42.01 L517.66 40.8 L519.65 39.64 L521.64 38.54 L523.63 37.49 L525.62 36.48 L527.62 35.51 L529.61 34.55 L531.6 33.61 L531.6 51.3 L529.61 52.89 L527.62 54.49 L525.62 56.1 L523.63 57.72 L521.64 59.36 L519.65 61.03 L517.66 62.72 L515.66 64.45 L513.67 66.21 L511.68 68.01 L509.69 69.83 L507.69 71.69 L505.7 73.58 L503.71 75.49 L501.72 77.43 L499.73 79.4 L497.73 81.4 L495.74 83.43 L493.75 85.5 L491.76 87.61 L489.77 89.74 L487.77 91.89 L485.78 94.04 L483.79 96.19 L481.8 98.34 L479.81 100.48 L477.81 102.61 L475.82 104.72 L473.83 106.82 L471.84 108.9 L469.84 110.93 L467.85 112.93 L465.86 114.86 L463.87 116.71 L461.88 118.47 L459.88 120.14 L457.89 121.7 L455.9 123.16 L453.91 124.55 L451.92 125.88 L449.92 127.14 L447.93 128.35 L445.94 129.51 L443.95 130.6 L441.96 131.64 L439.96 132.61 L437.97 133.53 L435.98 134.4 L433.99 135.23 L431.99 136.04 L430 136.83 L428.01 137.62 L426.02 138.42 L424.03 139.23 L422.03 140.05 L420.04 140.88 L418.05 141.71 L416.06 142.53 L414.07 143.35 L412.07 144.16 L410.08 144.96 L408.09 145.76 L406.1 146.54 L404.11 147.31 L402.11 148.08 L400.12 148.84 L398.13 149.61 L396.14 150.4 L394.14 151.23 L392.15 152.1 L390.16 153.01 L388.17 153.94 L386.18 154.9 L384.7 155.61 Z" fill="#add8e6" fill-opacity="0.225"/>
<path d="M304.5 165.4 L306.49 164.69 L308.48 163.99 L310.48 163.28 L312.47 162.59 L314.46 161.89 L316.45 161.2 L318.44 160.51 L320.44 159.81 L322.43 159.11 L324.42 158.4 L326.41 157.68 L328.41 156.94 L330.4 156.19 L332.39 155.42 L334.38 154.64 L336.37 153.83 L338.37 152.99 L340.36 152.14 L342.35 151.25 L344.34 150.35 L346.33 149.41 L348.33 148.45 L350.32 147.47 L352.31 146.47 L354.3 145.45 L356.29 144.43 L358.29 143.4 L360.28 142.38 L362.27 141.36 L364.26 140.35 L366.26 139.35 L368.25 138.35 L370.24 137.35 L372.23 136.34 L374.22 135.33 L376.22 134.32 L378.21 133.29 L380.2 132.25 L382.19 131.2 L384.18 130.16 L386.18 129.13 L388.17 128.11 L390.16 127.12 L392.15 126.16 L394.14 125.24 L396.14 124.36 L398.13 123.51 L400.12 122.68 L402.11 121.85 L404.11 121.01 L406.1 120.16 L408.09 119.3 L410.08 118.42 L412.07 117.53 L414.07 116.64 L416.06 115.75 L418.05 114.85 L420.04 113.95 L422.03 113.04 L424.03 112.12 L426.02 111.19 L428.01 110.25 L430 109.33 L431.99 108.42 L433.99 107.52 L435.98 106.62 L437.97 105.7 L439.96 104.73 L441.96 103.69 L443.95 102.59 L445.94 101.41 L447.93 100.16 L449.92 98.85 L451.92 97.47 L453.91 96.04 L455.9 94.55 L457.89 93.02 L459.88 91.44 L461.88 89.84 L463.87 88.2 L465.86 86.54 L467.85 84.85 L469.84 83.12 L471.84 81.36 L473.83 79.54 L475.82 77.68 L477.81 75.77 L479.81 73.81 L481.8 71.81 L483.79 69.77 L485.78 67.7 L487.77 65.61 L489.77 63.52 L491.76 61.46 L493.75 59.46 L495.74 57.54 L497.73 55.69 L499.73 53.93 L501.72 52.24 L503.71 50.61 L505.7 49.04 L507.69 47.51 L509.69 46.05 L511.68 44.64 L513.67 43.29 L515.66 42.01 L517.66 40.8 L519.65 39.64 L521.64 38.54 L523.63 37.49 L525.62 36.48 L527.62 35.51 L529.61 34.55 L531.6 33.61" fill="none" stroke="#5b8fe0" stroke-width="0.3" stroke-opacity="0.9"/>
<path d="M304.5 187.4 L306.49 186.89 L308.48 186.37 L310.48 185.84 L312.47 185.29 L314.46 184.73 L316.45 184.14 L318.44 183.54 L320.44 182.91 L322.43 182.27 L324.42 181.61 L326.41 180.93 L328.41 180.24 L330.4 179.55 L332.39 178.85 L334.38 178.14 L336.37 177.42 L338.37 176.7 L340.36 175.95 L342.35 175.19 L344.34 174.41 L346.33 173.59 L348.33 172.76 L350.32 171.89 L352.31 171 L354.3 170.09 L356.29 169.16 L358.29 168.22 L360.28 167.28 L362.27 166.32 L364.26 165.37 L366.26 164.43 L368.25 163.48 L370.24 162.54 L372.23 161.6 L374.22 160.66 L376.22 159.72 L378.21 158.76 L380.2 157.8 L382.19 156.83 L384.18 155.86 L386.18 154.9 L388.17 153.94 L390.16 153.01 L392.15 152.1 L394.14 151.23 L396.14 150.4 L398.13 149.61 L400.12 148.84 L402.11 148.08 L404.11 147.31 L406.1 146.54 L408.09 145.76 L410.08 144.96 L412.07 144.16 L414.07 143.35 L416.06 142.53 L418.05 141.71 L420.04 140.88 L422.03 140.05 L424.03 139.23 L426.02 138.42 L428.01 137.62 L430 136.83 L431.99 136.04 L433.99 135.23 L435.98 134.4 L437.97 133.53 L439.96 132.61 L441.96 131.64 L443.95 130.6 L445.94 129.51 L447.93 128.35 L449.92 127.14 L451.92 125.88 L453.91 124.55 L455.9 123.16 L457.89 121.7 L459.88 120.14 L461.88 118.47 L463.87 116.71 L465.86 114.86 L467.85 112.93 L469.84 110.93 L471.84 108.9 L473.83 106.82 L475.82 104.72 L477.81 102.61 L479.81 100.48 L481.8 98.34 L483.79 96.19 L485.78 94.04 L487.77 91.89 L489.77 89.74 L491.76 87.61 L493.75 85.5 L495.74 83.43 L497.73 81.4 L499.73 79.4 L501.72 77.43 L503.71 75.49 L505.7 73.58 L507.69 71.69 L509.69 69.83 L511.68 68.01 L513.67 66.21 L515.66 64.45 L517.66 62.72 L519.65 61.03 L521.64 59.36 L523.63 57.72 L525.62 56.1 L527.62 54.49 L529.61 52.89 L531.6 51.3" fill="none" stroke="#5b8fe0" stroke-width="0.3" stroke-opacity="0.9"/>
<path d="M304.5 165.4 L306.49 164.69 L308.48 163.99 L310.48 163.28 L312.47 162.59 L314.46 161.89 L316.45 161.2 L318.44 160.51 L320.44 159.81 L322.43 159.11 L324.42 158.4 L326.41 157.68 L328.41 156.94 L330.4 156.19 L332.39 155.42 L334.38 154.64 L336.37 153.83 L338.37 152.99 L340.36 152.14 L342.35 151.25 L344.34 150.35 L346.33 149.41 L348.33 148.45 L350.32 147.47 L352.31 146.47 L354.3 145.45 L356.29 144.43 L358.29 143.4 L360.28 142.38 L362.27 141.36 L364.26 140.35 L366.26 139.35 L368.25 138.35 L370.24 137.35 L372.23 136.34 L374.22 135.33 L376.22 134.32 L378.21 133.29 L380.2 132.25 L382.19 131.2 L384.18 130.16 L386.18 129.13 L388.17 128.11 L390.16 127.12 L392.15 126.16 L394.14 125.24 L396.14 124.36 L398.13 123.51 L400.12 122.68 L402.11 121.85 L404.11 121.01 L406.1 120.16 L408.09 119.3 L410.08 118.42 L412.07 117.53 L414.07 116.64 L416.06 115.75 L418.05 114.85 L420.04 113.95 L422.03 113.04 L424.03 112.12 L426.02 111.19 L428.01 110.25 L430 109.33 L431.99 108.42 L433.99 107.52 L435.98 106.62 L437.97 105.7 L439.96 104.73 L441.96 103.69 L443.95 102.59 L445.94 101.41 L447.93 100.16 L449.92 98.85 L451.92 97.47 L453.91 96.04 L455.9 94.55 L457.89 93.02 L459.88 91.44 L461.88 89.84 L463.87 88.2 L465.86 86.54 L467.85 84.85 L469.84 83.12 L471.84 81.36 L473.83 79.54 L475.82 77.68 L477.81 75.77 L479.81 73.81 L481.8 71.81 L483.79 69.77 L485.78 67.7 L487.77 65.61 L489.77 63.52 L491.76 61.46 L493.75 59.46 L495.74 57.54 L497.73 55.69 L499.73 53.93 L501.72 52.24 L503.71 50.61 L505.7 49.04 L507.69 47.51 L509.69 46.05 L511.68 44.64 L513.67 43.29 L515.66 42.01 L517.66 40.8 L519.65 39.64 L521.64 38.54 L523.63 37.49 L525.62 36.48 L527.62 35.51 L529.61 34.55 L531.6 33.61" fill="none" stroke="#2a2f6e" stroke-width="0.32" stroke-dasharray="1.5 0.6" stroke-opacity="0.85"/>
<path d="M304.5 187.4 L306.49 186.89 L308.48 186.37 L310.48 185.84 L312.47 185.29 L314.46 184.73 L316.45 184.14 L318.44 183.54 L320.44 182.91 L322.43 182.27 L324.42 181.61 L326.41 180.93 L328.41 180.24 L330.4 179.55 L332.39 178.85 L334.38 178.14 L336.37 177.42 L338.37 176.7 L340.36 175.95 L342.35 175.19 L344.34 174.41 L346.33 173.59 L348.33 172.76 L350.32 171.89 L352.31 171 L354.3 170.09 L356.29 169.16 L358.29 168.22 L360.28 167.28 L362.27 166.32 L364.26 165.37 L366.26 164.43 L368.25 163.48 L370.24 162.54 L372.23 161.6 L374.22 160.66 L376.22 159.72 L378.21 158.76 L380.2 157.8 L382.19 156.83 L384.18 155.86 L386.18 154.9 L388.17 153.94 L390.16 153.01 L392.15 152.1 L394.14 151.23 L396.14 150.4 L398.13 149.61 L400.12 148.84 L402.11 148.08 L404.11 147.31 L406.1 146.54 L408.09 145.76 L410.08 144.96 L412.07 144.16 L414.07 143.35 L416.06 142.53 L418.05 141.71 L420.04 140.88 L422.03 140.05 L424.03 139.23 L426.02 138.42 L428.01 137.62 L430 136.83 L431.99 136.04 L433.99 135.23 L435.98 134.4 L437.97 133.53 L439.96 132.61 L441.96 131.64 L443.95 130.6 L445.94 129.51 L447.93 128.35 L449.92 127.14 L451.92 125.88 L453.91 124.55 L455.9 123.16 L457.89 121.7 L459.88 120.14 L461.88 118.47 L463.87 116.71 L465.86 114.86 L467.85 112.93 L469.84 110.93 L471.84 108.9 L473.83 106.82 L475.82 104.72 L477.81 102.61 L479.81 100.48 L481.8 98.34 L483.79 96.19 L485.78 94.04 L487.77 91.89 L489.77 89.74 L491.76 87.61 L493.75 85.5 L495.74 83.43 L497.73 81.4 L499.73 79.4 L501.72 77.43 L503.71 75.49 L505.7 73.58 L507.69 71.69 L509.69 69.83 L511.68 68.01 L513.67 66.21 L515.66 64.45 L517.66 62.72 L519.65 61.03 L521.64 59.36 L523.63 57.72 L525.62 56.1 L527.62 54.49 L529.61 52.89 L531.6 51.3" fill="none" stroke="#2a2f6e" stroke-width="0.32" stroke-dasharray="1.5 0.6" stroke-opacity="0.85"/>
<path d="M304.5 176.3 L306.49 175.74 L308.48 175.19 L310.48 174.62 L312.47 174.05 L314.46 173.47 L316.45 172.87 L318.44 172.27 L320.44 171.65 L322.43 171.03 L324.42 170.4 L326.41 169.75 L328.41 169.09 L330.4 168.4 L332.39 167.68 L334.38 166.94 L336.37 166.17 L338.37 165.38 L340.36 164.55 L342.35 163.71 L344.34 162.83 L346.33 161.94 L348.33 161.01 L350.32 160.07 L352.31 159.1 L354.3 158.13 L356.29 157.15 L358.29 156.19 L360.28 155.25 L362.27 154.32 L364.26 153.39 L366.26 152.47 L368.25 151.54 L370.24 150.58 L372.23 149.62 L374.22 148.63 L376.22 147.63 L378.21 146.61 L380.2 145.58 L382.19 144.54 L384.18 143.5 L386.18 142.46 L388.17 141.43 L390.16 140.42 L392.15 139.43 L394.14 138.48 L396.14 137.57 L398.13 136.71 L400.12 135.87 L402.11 135.06 L404.11 134.25 L406.1 133.44 L408.09 132.62 L410.08 131.8 L412.07 130.97 L414.07 130.14 L416.06 129.33 L418.05 128.53 L420.04 127.75 L422.03 126.98 L424.03 126.21 L426.02 125.46 L428.01 124.7 L430 123.94 L431.99 123.18 L433.99 122.39 L435.98 121.57 L437.97 120.7 L439.96 119.73 L441.96 118.67 L443.95 117.49 L445.94 116.22 L447.93 114.85 L449.92 113.41 L451.92 111.91 L453.91 110.34 L455.9 108.71 L457.89 107.03 L459.88 105.3 L461.88 103.52 L463.87 101.68 L465.86 99.8 L467.85 97.88 L469.84 95.92 L471.84 93.95 L473.83 91.97 L475.82 89.97 L477.81 87.97 L479.81 85.97 L481.8 83.94 L483.79 81.9 L485.78 79.84 L487.77 77.76 L489.77 75.69 L491.76 73.62 L493.75 71.6 L495.74 69.63 L497.73 67.72 L499.73 65.87 L501.72 64.07 L503.71 62.34 L505.7 60.65 L507.69 59 L509.69 57.4 L511.68 55.83 L513.67 54.3 L515.66 52.8 L517.66 51.33 L519.65 49.9 L521.64 48.5 L523.63 47.13 L525.62 45.8 L527.62 44.49 L529.61 43.19 L531.6 41.9" fill="none" stroke="#5a96eb" stroke-width="0.95"/>
<g><text x="283.1" y="15.5" font-size="8.2" font-weight="bold" fill="#000">B</text><text x="293.2" y="9.7" font-size="5.65" fill="#000" stroke="#000" stroke-width="0.12">Coniferous Adult</text><text x="295.2" y="21.6" font-size="4.3" fill="#1a1a1a" stroke="#1a1a1a" stroke-width="0.08">R² = 0.333</text><text x="295.2" y="27.6" font-size="4.3" fill="#1a1a1a" stroke="#1a1a1a" stroke-width="0.08">m = 0.781</text><text x="328.1" y="201" font-size="3.4" fill="#3d3d3d" stroke="#3d3d3d" stroke-width="0.06" text-anchor="middle">−4</text><text x="401.3" y="201" font-size="3.4" fill="#3d3d3d" stroke="#3d3d3d" stroke-width="0.06" text-anchor="middle">−3</text><text x="474.5" y="201" font-size="3.4" fill="#3d3d3d" stroke="#3d3d3d" stroke-width="0.06" text-anchor="middle">−2</text><text x="289.9" y="166.8" font-size="3.4" fill="#3d3d3d" stroke="#3d3d3d" stroke-width="0.06" text-anchor="end">0.25</text><text x="289.9" y="119.1" font-size="3.4" fill="#3d3d3d" stroke="#3d3d3d" stroke-width="0.06" text-anchor="end">0.5</text><text x="289.9" y="71.4" font-size="3.4" fill="#3d3d3d" stroke="#3d3d3d" stroke-width="0.06" text-anchor="end">0.75</text><text x="289.9" y="23.7" font-size="3.4" fill="#3d3d3d" stroke="#3d3d3d" stroke-width="0.06" text-anchor="end">1</text><text x="417.7" y="207.4" font-size="4.68" fill="#1a1a1a" stroke="#1a1a1a" stroke-width="0.08" text-anchor="middle">Log10(Mean Relative Abundance)</text><text transform="translate(280.4 104.5) rotate(-90)" font-size="4.8" fill="#1a1a1a" stroke="#1a1a1a" stroke-width="0.08" text-anchor="middle">Occurrence Frequency</text><text x="369.1" y="219.9" font-size="4.65" fill="#1a1a1a" stroke="#1a1a1a" stroke-width="0.08">point_category</text><rect x="403.3" y="215.3" width="6" height="6" fill="#eef8fb" stroke="#a8dbea" stroke-width="0.55"/><circle cx="406.2" cy="218.3" r="0.8" fill="#9edbe8"/><text x="412.1" y="219.55" font-size="3.65" fill="#1a1a1a" stroke="#1a1a1a" stroke-width="0.07">Above</text><rect x="425.6" y="215.3" width="6" height="6" fill="#edf4fb" stroke="#e6eaf8" stroke-width="0.4"/><circle cx="428.5" cy="218.3" r="0.8" fill="#d9d9f5"/><text x="434.4" y="219.55" font-size="3.65" fill="#1a1a1a" stroke="#1a1a1a" stroke-width="0.07">Below</text><rect x="446.45" y="215" width="6.5" height="6.5" fill="#f1f8fb" stroke="#3a3a3a" stroke-width="0.65"/><circle cx="449.7" cy="218.3" r="1.0" fill="#24272b"/><text x="455.6" y="219.55" font-size="3.65" fill="#1a1a1a" stroke="#1a1a1a" stroke-width="0.07">Center</text></g>
<g><line x1="330.1" y1="238.5" x2="330.1" y2="420" stroke="#f4f4f4" stroke-width="0.3"/><line x1="415.1" y1="238.5" x2="415.1" y2="420" stroke="#f4f4f4" stroke-width="0.3"/><line x1="500.1" y1="238.5" x2="500.1" y2="420" stroke="#f4f4f4" stroke-width="0.3"/><line x1="293" y1="411.81" x2="544" y2="411.81" stroke="#f4f4f4" stroke-width="0.3"/><line x1="293" y1="364.19" x2="544" y2="364.19" stroke="#f4f4f4" stroke-width="0.3"/><line x1="293" y1="316.56" x2="544" y2="316.56" stroke="#f4f4f4" stroke-width="0.3"/><line x1="293" y1="268.94" x2="544" y2="268.94" stroke="#f4f4f4" stroke-width="0.3"/><line x1="372.6" y1="238.5" x2="372.6" y2="420" stroke="#efefef" stroke-width="0.5"/><line x1="457.6" y1="238.5" x2="457.6" y2="420" stroke="#efefef" stroke-width="0.5"/><line x1="542.6" y1="238.5" x2="542.6" y2="420" stroke="#efefef" stroke-width="0.5"/><line x1="293" y1="388" x2="544" y2="388" stroke="#efefef" stroke-width="0.5"/><line x1="293" y1="340.38" x2="544" y2="340.38" stroke="#efefef" stroke-width="0.5"/><line x1="293" y1="292.75" x2="544" y2="292.75" stroke="#efefef" stroke-width="0.5"/><line x1="293" y1="245.12" x2="544" y2="245.12" stroke="#efefef" stroke-width="0.5"/></g>
<g><circle cx="469.2" cy="336.18" r="0.95" fill="#d9d9f5" fill-opacity="0.6"/><circle cx="443.8" cy="344.46" r="0.95" fill="#d9d9f5" fill-opacity="0.6"/><circle cx="462.4" cy="344.46" r="0.95" fill="#d9d9f5" fill-opacity="0.6"/><circle cx="464.8" cy="361.02" r="0.95" fill="#d9d9f5" fill-opacity="0.6"/><circle cx="464.8" cy="369.3" r="0.95" fill="#d9d9f5" fill-opacity="0.6"/><circle cx="505.7" cy="369.3" r="0.95" fill="#d9d9f5" fill-opacity="0.6"/><circle cx="406" cy="377.58" r="0.95" fill="#d9d9f5" fill-opacity="0.6"/><circle cx="448.8" cy="377.58" r="0.95" fill="#d9d9f5" fill-opacity="0.6"/><circle cx="486.4" cy="377.58" r="0.95" fill="#d9d9f5" fill-opacity="0.6"/><circle cx="532" cy="377.58" r="0.95" fill="#d9d9f5" fill-opacity="0.6"/><circle cx="404.8" cy="385.86" r="0.95" fill="#d9d9f5" fill-opacity="0.6"/><circle cx="422.3" cy="385.86" r="0.95" fill="#d9d9f5" fill-opacity="0.6"/><circle cx="484.9" cy="385.86" r="0.95" fill="#d9d9f5" fill-opacity="0.6"/><circle cx="486.9" cy="385.86" r="0.95" fill="#d9d9f5" fill-opacity="0.6"/><circle cx="413" cy="394.14" r="0.95" fill="#d9d9f5" fill-opacity="0.6"/><circle cx="429.3" cy="394.14" r="0.95" fill="#d9d9f5" fill-opacity="0.6"/><circle cx="437.3" cy="394.14" r="0.95" fill="#d9d9f5" fill-opacity="0.6"/><circle cx="445.1" cy="394.14" r="0.95" fill="#d9d9f5" fill-opacity="0.6"/><circle cx="452.3" cy="394.14" r="0.95" fill="#d9d9f5" fill-opacity="0.6"/><circle cx="512.7" cy="394.14" r="0.95" fill="#d9d9f5" fill-opacity="0.6"/><circle cx="454.8" cy="245.1" r="0.95" fill="#9edbe8" fill-opacity="0.95"/><circle cx="456.8" cy="245.1" r="0.95" fill="#9edbe8" fill-opacity="0.95"/><circle cx="463.6" cy="245.1" r="0.95" fill="#9edbe8" fill-opacity="0.95"/><circle cx="466.1" cy="245.1" r="0.95" fill="#9edbe8" fill-opacity="0.95"/><circle cx="471.1" cy="245.1" r="0.95" fill="#9edbe8" fill-opacity="0.95"/><circle cx="478.6" cy="245.1" r="0.95" fill="#9edbe8" fill-opacity="0.95"/><circle cx="490.6" cy="245.1" r="0.95" fill="#9edbe8" fill-opacity="0.95"/><circle cx="509.4" cy="245.1" r="0.95" fill="#9edbe8" fill-opacity="0.95"/><circle cx="519.4" cy="245.1" r="0.95" fill="#9edbe8" fill-opacity="0.95"/><circle cx="448.8" cy="253.38" r="0.95" fill="#9edbe8" fill-opacity="0.95"/><circle cx="453.8" cy="253.38" r="0.95" fill="#9edbe8" fill-opacity="0.95"/><circle cx="496.4" cy="253.38" r="0.95" fill="#9edbe8" fill-opacity="0.95"/><circle cx="422.3" cy="261.66" r="0.95" fill="#9edbe8" fill-opacity="0.95"/><circle cx="426.8" cy="261.66" r="0.95" fill="#9edbe8" fill-opacity="0.95"/><circle cx="428.5" cy="261.66" r="0.95" fill="#9edbe8" fill-opacity="0.95"/><circle cx="433" cy="261.66" r="0.95" fill="#9edbe8" fill-opacity="0.95"/><circle cx="436.8" cy="261.66" r="0.95" fill="#9edbe8" fill-opacity="0.95"/><circle cx="454.8" cy="261.66" r="0.95" fill="#9edbe8" fill-opacity="0.95"/><circle cx="459.3" cy="261.66" r="0.95" fill="#9edbe8" fill-opacity="0.95"/><circle cx="461.1" cy="261.66" r="0.95" fill="#9edbe8" fill-opacity="0.95"/><circle cx="466.3" cy="261.66" r="0.95" fill="#9edbe8" fill-opacity="0.95"/><circle cx="468.8" cy="261.66" r="0.95" fill="#9edbe8" fill-opacity="0.95"/><circle cx="490.1" cy="261.66" r="0.95" fill="#9edbe8" fill-opacity="0.95"/><circle cx="419.1" cy="269.94" r="0.95" fill="#9edbe8" fill-opacity="0.95"/><circle cx="429.1" cy="269.94" r="0.95" fill="#9edbe8" fill-opacity="0.95"/><circle cx="411.3" cy="278.22" r="0.95" fill="#9edbe8" fill-opacity="0.95"/><circle cx="387.3" cy="286.5" r="0.95" fill="#9edbe8" fill-opacity="0.95"/><circle cx="390.4" cy="303.06" r="0.95" fill="#9edbe8" fill-opacity="0.95"/><circle cx="467.8" cy="269.94" r="1.05" fill="#24272b" fill-opacity="0.82"/><circle cx="418.2" cy="278.22" r="1.05" fill="#24272b" fill-opacity="0.82"/><circle cx="420" cy="278.22" r="1.05" fill="#24272b" fill-opacity="0.82"/><circle cx="442" cy="278.22" r="1.05" fill="#24272b" fill-opacity="0.82"/><circle cx="472.2" cy="278.22" r="1.05" fill="#24272b" fill-opacity="0.82"/><circle cx="487.8" cy="278.22" r="1.05" fill="#24272b" fill-opacity="0.82"/><circle cx="413.3" cy="286.5" r="1.05" fill="#24272b" fill-opacity="0.82"/><circle cx="430" cy="286.5" r="1.05" fill="#24272b" fill-opacity="0.82"/><circle cx="420.2" cy="294.78" r="1.05" fill="#24272b" fill-opacity="0.82"/><circle cx="421.5" cy="294.78" r="1.05" fill="#24272b" fill-opacity="0.82"/><circle cx="441.3" cy="294.78" r="1.05" fill="#24272b" fill-opacity="0.82"/><circle cx="451.8" cy="294.78" r="1.05" fill="#24272b" fill-opacity="0.82"/><circle cx="455.5" cy="294.78" r="1.05" fill="#24272b" fill-opacity="0.82"/><circle cx="393.1" cy="303.06" r="1.05" fill="#24272b" fill-opacity="0.82"/><circle cx="407.6" cy="303.06" r="1.05" fill="#24272b" fill-opacity="0.82"/><circle cx="418.5" cy="303.06" r="1.05" fill="#24272b" fill-opacity="0.82"/><circle cx="443.3" cy="303.06" r="1.05" fill="#24272b" fill-opacity="0.82"/><circle cx="386" cy="311.34" r="1.05" fill="#24272b" fill-opacity="0.82"/><circle cx="392.6" cy="311.34" r="1.05" fill="#24272b" fill-opacity="0.82"/><circle cx="402.8" cy="311.34" r="1.05" fill="#24272b" fill-opacity="0.82"/><circle cx="407.2" cy="311.34" r="1.05" fill="#24272b" fill-opacity="0.82"/><circle cx="426.9" cy="311.34" r="1.05" fill="#24272b" fill-opacity="0.82"/><circle cx="476.9" cy="311.34" r="1.05" fill="#24272b" fill-opacity="0.82"/><circle cx="377.8" cy="319.62" r="1.05" fill="#24272b" fill-opacity="0.82"/><circle cx="390.2" cy="319.62" r="1.05" fill="#24272b" fill-opacity="0.82"/><circle cx="392.6" cy="319.62" r="1.05" fill="#24272b" fill-opacity="0.82"/><circle cx="416.3" cy="319.62" r="1.05" fill="#24272b" fill-opacity="0.82"/><circle cx="430" cy="319.62" r="1.05" fill="#24272b" fill-opacity="0.82"/><circle cx="386" cy="327.9" r="1.05" fill="#24272b" fill-opacity="0.82"/><circle cx="393.1" cy="327.9" r="1.05" fill="#24272b" fill-opacity="0.82"/><circle cx="396.9" cy="327.9" r="1.05" fill="#24272b" fill-opacity="0.82"/><circle cx="402.5" cy="336.18" r="1.05" fill="#24272b" fill-opacity="0.82"/><circle cx="404.6" cy="336.18" r="1.05" fill="#24272b" fill-opacity="0.82"/><circle cx="484.9" cy="336.18" r="1.05" fill="#24272b" fill-opacity="0.82"/><circle cx="377.1" cy="344.46" r="1.05" fill="#24272b" fill-opacity="0.82"/><circle cx="396.5" cy="344.46" r="1.05" fill="#24272b" fill-opacity="0.82"/><circle cx="399.6" cy="344.46" r="1.05" fill="#24272b" fill-opacity="0.82"/><circle cx="418.3" cy="344.46" r="1.05" fill="#24272b" fill-opacity="0.82"/><circle cx="521.5" cy="344.46" r="1.05" fill="#24272b" fill-opacity="0.82"/><circle cx="360.2" cy="352.74" r="1.05" fill="#24272b" fill-opacity="0.82"/><circle cx="367.5" cy="352.74" r="1.05" fill="#24272b" fill-opacity="0.82"/><circle cx="369.6" cy="352.74" r="1.05" fill="#24272b" fill-opacity="0.82"/><circle cx="375.4" cy="352.74" r="1.05" fill="#24272b" fill-opacity="0.82"/><circle cx="377.6" cy="352.74" r="1.05" fill="#24272b" fill-opacity="0.82"/><circle cx="347.7" cy="361.02" r="1.05" fill="#24272b" fill-opacity="0.82"/><circle cx="371.3" cy="361.02" r="1.05" fill="#24272b" fill-opacity="0.82"/><circle cx="376.7" cy="361.02" r="1.05" fill="#24272b" fill-opacity="0.82"/><circle cx="385.9" cy="361.02" r="1.05" fill="#24272b" fill-opacity="0.82"/><circle cx="387" cy="361.02" r="1.05" fill="#24272b" fill-opacity="0.82"/><circle cx="399.2" cy="361.02" r="1.05" fill="#24272b" fill-opacity="0.82"/><circle cx="407.2" cy="361.02" r="1.05" fill="#24272b" fill-opacity="0.82"/><circle cx="335.3" cy="369.3" r="1.05" fill="#24272b" fill-opacity="0.82"/><circle cx="349.1" cy="369.3" r="1.05" fill="#24272b" fill-opacity="0.82"/><circle cx="350.8" cy="369.3" r="1.05" fill="#24272b" fill-opacity="0.82"/><circle cx="352.3" cy="369.3" r="1.05" fill="#24272b" fill-opacity="0.82"/><circle cx="354" cy="369.3" r="1.05" fill="#24272b" fill-opacity="0.82"/><circle cx="380.8" cy="369.3" r="1.05" fill="#24272b" fill-opacity="0.82"/><circle cx="386.5" cy="369.3" r="1.05" fill="#24272b" fill-opacity="0.82"/><circle cx="402.2" cy="369.3" r="1.05" fill="#24272b" fill-opacity="0.82"/><circle cx="319.6" cy="377.58" r="1.05" fill="#24272b" fill-opacity="0.82"/><circle cx="325.9" cy="377.58" r="1.05" fill="#24272b" fill-opacity="0.82"/><circle cx="336.5" cy="377.58" r="1.05" fill="#24272b" fill-opacity="0.82"/><circle cx="351.2" cy="377.58" r="1.05" fill="#24272b" fill-opacity="0.82"/><circle cx="353.2" cy="377.58" r="1.05" fill="#24272b" fill-opacity="0.82"/><circle cx="367.7" cy="377.58" r="1.05" fill="#24272b" fill-opacity="0.82"/><circle cx="369.3" cy="377.58" r="1.05" fill="#24272b" fill-opacity="0.82"/><circle cx="383.5" cy="377.58" r="1.05" fill="#24272b" fill-opacity="0.82"/><circle cx="393.8" cy="377.58" r="1.05" fill="#24272b" fill-opacity="0.82"/><circle cx="313.3" cy="385.86" r="1.05" fill="#24272b" fill-opacity="0.82"/><circle cx="330.8" cy="385.86" r="1.05" fill="#24272b" fill-opacity="0.82"/><circle cx="333.2" cy="385.86" r="1.05" fill="#24272b" fill-opacity="0.82"/><circle cx="346.2" cy="385.86" r="1.05" fill="#24272b" fill-opacity="0.82"/><circle cx="353.6" cy="385.86" r="1.05" fill="#24272b" fill-opacity="0.82"/><circle cx="360.4" cy="385.86" r="1.05" fill="#24272b" fill-opacity="0.82"/><circle cx="364.1" cy="385.86" r="1.05" fill="#24272b" fill-opacity="0.82"/><circle cx="374.9" cy="385.86" r="1.05" fill="#24272b" fill-opacity="0.82"/><circle cx="376.7" cy="385.86" r="1.05" fill="#24272b" fill-opacity="0.82"/><circle cx="378.5" cy="385.86" r="1.05" fill="#24272b" fill-opacity="0.82"/><circle cx="382.3" cy="385.86" r="1.05" fill="#24272b" fill-opacity="0.82"/><circle cx="384.2" cy="385.86" r="1.05" fill="#24272b" fill-opacity="0.82"/><circle cx="386" cy="385.86" r="1.05" fill="#24272b" fill-opacity="0.82"/><circle cx="387.8" cy="385.86" r="1.05" fill="#24272b" fill-opacity="0.82"/><circle cx="304.5" cy="394.14" r="1.05" fill="#24272b" fill-opacity="0.82"/><circle cx="313.3" cy="394.14" r="1.05" fill="#24272b" fill-opacity="0.82"/><circle cx="320.9" cy="394.14" r="1.05" fill="#24272b" fill-opacity="0.82"/><circle cx="325.3" cy="394.14" r="1.05" fill="#24272b" fill-opacity="0.82"/><circle cx="329.6" cy="394.14" r="1.05" fill="#24272b" fill-opacity="0.82"/><circle cx="331.4" cy="394.14" r="1.05" fill="#24272b" fill-opacity="0.82"/><circle cx="347.7" cy="394.14" r="1.05" fill="#24272b" fill-opacity="0.82"/><circle cx="353.8" cy="394.14" r="1.05" fill="#24272b" fill-opacity="0.82"/><circle cx="358.1" cy="394.14" r="1.05" fill="#24272b" fill-opacity="0.82"/></g>
<path d="M304.3 385.2 L306.29 384.44 L308.29 383.67 L310.28 382.89 L312.28 382.1 L314.27 381.29 L316.26 380.46 L318.26 379.6 L320.25 378.72 L322.24 377.8 L324.24 376.86 L326.23 375.88 L328.23 374.87 L330.22 373.85 L332.21 372.8 L334.21 371.73 L336.2 370.64 L338.2 369.53 L340.19 368.4 L342.18 367.24 L344.18 366.05 L346.17 364.83 L348.16 363.56 L350.16 362.24 L352.15 360.86 L354.15 359.43 L356.14 357.96 L358.13 356.45 L360.13 354.91 L362.12 353.34 L364.12 351.75 L366.11 350.13 L368.1 348.48 L370.1 346.79 L372.09 345.05 L374.09 343.24 L376.08 341.38 L378.07 339.46 L380.07 337.5 L382.06 335.53 L384.05 333.54 L386.05 331.56 L388.04 329.57 L390.04 327.58 L392.03 325.6 L394.02 323.61 L396.02 321.6 L398.01 319.58 L400.01 317.56 L402 315.54 L403.99 313.53 L405.99 311.53 L407.98 309.55 L409.97 307.59 L411.97 305.68 L413.96 303.86 L415.96 302.14 L417.95 300.57 L419.94 299.15 L421.94 297.83 L423.93 296.59 L425.93 295.37 L427.92 294.17 L429.91 292.98 L431.91 291.83 L433.9 290.73 L435.89 289.69 L437.89 288.72 L439.88 287.82 L441.88 287.01 L443.87 286.28 L445.86 285.64 L447.86 285.08 L449.85 284.61 L451.85 284.22 L453.84 283.91 L455.83 283.66 L457.83 283.47 L459.82 283.34 L461.81 283.26 L463.81 283.24 L465.8 283.26 L467.8 283.34 L469.79 283.48 L471.78 283.66 L473.78 283.91 L475.77 284.22 L477.77 284.6 L479.76 285.04 L481.75 285.55 L483.75 286.14 L485.74 286.79 L487.74 287.51 L489.73 288.3 L491.72 289.16 L493.72 290.07 L495.71 291.02 L497.7 292.01 L499.7 293.03 L501.69 294.06 L503.69 295.09 L505.68 296.13 L507.67 297.17 L509.67 298.21 L511.66 299.26 L513.66 300.31 L515.65 301.36 L517.64 302.44 L519.64 303.52 L521.5 304.55 L521.5 336.21 L519.64 335.17 L517.64 334.03 L515.65 332.86 L513.66 331.67 L511.66 330.45 L509.67 329.22 L507.67 327.98 L505.68 326.73 L503.69 325.49 L501.69 324.27 L499.7 323.06 L497.7 321.88 L495.71 320.74 L493.72 319.63 L491.72 318.56 L489.73 317.55 L487.74 316.6 L485.74 315.72 L483.75 314.92 L481.75 314.19 L479.76 313.55 L477.77 313 L475.77 312.54 L473.78 312.17 L471.78 311.88 L469.79 311.67 L467.8 311.52 L465.8 311.43 L463.81 311.42 L461.81 311.48 L459.82 311.62 L457.83 311.83 L455.83 312.12 L453.84 312.48 L451.85 312.91 L449.85 313.43 L447.86 314.03 L445.86 314.71 L443.87 315.46 L441.88 316.26 L439.88 317.1 L437.89 317.96 L435.89 318.86 L433.9 319.78 L431.91 320.77 L429.91 321.84 L427.92 323.05 L425.93 324.39 L423.93 325.88 L421.94 327.49 L419.94 329.2 L417.95 331.02 L415.96 332.93 L413.96 334.92 L411.97 336.97 L409.97 339.05 L407.98 341.16 L405.99 343.25 L403.99 345.33 L402 347.37 L400.01 349.39 L398.01 351.41 L396.02 353.46 L394.02 355.57 L392.03 357.73 L390.04 359.93 L388.04 362.12 L386.05 364.27 L384.05 366.35 L382.06 368.33 L380.07 370.22 L378.07 371.99 L376.08 373.64 L374.09 375.18 L372.09 376.59 L370.1 377.93 L368.1 379.22 L366.11 380.51 L364.12 381.82 L362.12 383.16 L360.13 384.5 L358.13 385.82 L356.14 387.13 L354.15 388.4 L352.15 389.65 L350.16 390.87 L348.16 392.05 L346.17 393.2 L344.18 394.32 L342.18 395.4 L340.19 396.44 L338.2 397.46 L336.2 398.44 L334.21 399.39 L332.21 400.31 L330.22 401.19 L328.23 402.05 L326.23 402.87 L324.24 403.67 L322.24 404.45 L320.25 405.21 L318.26 405.94 L316.26 406.65 L314.27 407.34 L312.28 408.01 L310.28 408.65 L308.29 409.28 L306.29 409.89 L304.3 410.5 Z" fill="#add8e6" fill-opacity="0.225"/>
<path d="M387.3 330.31 L388.04 329.57 L390.04 327.58 L392.03 325.6 L394.02 323.61 L396.02 321.6 L398.01 319.58 L400.01 317.56 L402 315.54 L403.99 313.53 L405.99 311.53 L407.98 309.55 L409.97 307.59 L411.97 305.68 L413.96 303.86 L415.96 302.14 L417.95 300.57 L419.94 299.15 L421.94 297.83 L423.93 296.59 L425.93 295.37 L427.92 294.17 L429.91 292.98 L431.91 291.83 L433.9 290.73 L435.89 289.69 L437.89 288.72 L439.88 287.82 L441.88 287.01 L443.87 286.28 L445.86 285.64 L447.86 285.08 L449.85 284.61 L451.85 284.22 L453.84 283.91 L455.83 283.66 L457.83 283.47 L459.82 283.34 L461.81 283.26 L463.81 283.24 L465.8 283.26 L467.8 283.34 L469.79 283.48 L471.78 283.66 L473.78 283.91 L475.77 284.22 L477.77 284.6 L479.76 285.04 L481.75 285.55 L483.75 286.14 L485.74 286.79 L487.74 287.51 L489.73 288.3 L491.72 289.16 L493.72 290.07 L495.71 291.02 L497.7 292.01 L499.7 293.03 L501.69 294.06 L503.69 295.09 L505.68 296.13 L507.67 297.17 L509.67 298.21 L511.66 299.26 L513.66 300.31 L515.65 301.36 L517.64 302.44 L519.4 303.39 L519.4 335.03 L517.64 334.03 L515.65 332.86 L513.66 331.67 L511.66 330.45 L509.67 329.22 L507.67 327.98 L505.68 326.73 L503.69 325.49 L501.69 324.27 L499.7 323.06 L497.7 321.88 L495.71 320.74 L493.72 319.63 L491.72 318.56 L489.73 317.55 L487.74 316.6 L485.74 315.72 L483.75 314.92 L481.75 314.19 L479.76 313.55 L477.77 313 L475.77 312.54 L473.78 312.17 L471.78 311.88 L469.79 311.67 L467.8 311.52 L465.8 311.43 L463.81 311.42 L461.81 311.48 L459.82 311.62 L457.83 311.83 L455.83 312.12 L453.84 312.48 L451.85 312.91 L449.85 313.43 L447.86 314.03 L445.86 314.71 L443.87 315.46 L441.88 316.26 L439.88 317.1 L437.89 317.96 L435.89 318.86 L433.9 319.78 L431.91 320.77 L429.91 321.84 L427.92 323.05 L425.93 324.39 L423.93 325.88 L421.94 327.49 L419.94 329.2 L417.95 331.02 L415.96 332.93 L413.96 334.92 L411.97 336.97 L409.97 339.05 L407.98 341.16 L405.99 343.25 L403.99 345.33 L402 347.37 L400.01 349.39 L398.01 351.41 L396.02 353.46 L394.02 355.57 L392.03 357.73 L390.04 359.93 L388.04 362.12 L387.3 362.92 Z" fill="#add8e6" fill-opacity="0.225"/>
<path d="M405.5 312.02 L405.99 311.53 L407.98 309.55 L409.97 307.59 L411.97 305.68 L413.96 303.86 L415.96 302.14 L417.95 300.57 L419.94 299.15 L421.94 297.83 L423.93 296.59 L425.93 295.37 L427.92 294.17 L429.91 292.98 L431.91 291.83 L433.9 290.73 L435.89 289.69 L437.89 288.72 L439.88 287.82 L441.88 287.01 L443.87 286.28 L445.86 285.64 L447.86 285.08 L449.85 284.61 L451.85 284.22 L453.84 283.91 L455.83 283.66 L457.83 283.47 L459.82 283.34 L461.81 283.26 L463.81 283.24 L465.8 283.26 L467.8 283.34 L469.79 283.48 L471.78 283.66 L473.78 283.91 L475.77 284.22 L477.77 284.6 L479.76 285.04 L481.75 285.55 L483.75 286.14 L485.74 286.79 L487.74 287.51 L489.73 288.3 L491.72 289.16 L493.72 290.07 L495.71 291.02 L497.7 292.01 L499.7 293.03 L501.69 294.06 L503.69 295.09 L505.68 296.13 L507.67 297.17 L509.67 298.21 L511.66 299.26 L513.66 300.31 L515.65 301.36 L517.64 302.44 L519.64 303.52 L521.63 304.63 L523.62 305.75 L525.62 306.89 L527.61 308.05 L529.61 309.22 L531.6 310.41 L531.6 341.49 L529.61 340.48 L527.61 339.46 L525.62 338.42 L523.62 337.36 L521.63 336.28 L519.64 335.17 L517.64 334.03 L515.65 332.86 L513.66 331.67 L511.66 330.45 L509.67 329.22 L507.67 327.98 L505.68 326.73 L503.69 325.49 L501.69 324.27 L499.7 323.06 L497.7 321.88 L495.71 320.74 L493.72 319.63 L491.72 318.56 L489.73 317.55 L487.74 316.6 L485.74 315.72 L483.75 314.92 L481.75 314.19 L479.76 313.55 L477.77 313 L475.77 312.54 L473.78 312.17 L471.78 311.88 L469.79 311.67 L467.8 311.52 L465.8 311.43 L463.81 311.42 L461.81 311.48 L459.82 311.62 L457.83 311.83 L455.83 312.12 L453.84 312.48 L451.85 312.91 L449.85 313.43 L447.86 314.03 L445.86 314.71 L443.87 315.46 L441.88 316.26 L439.88 317.1 L437.89 317.96 L435.89 318.86 L433.9 319.78 L431.91 320.77 L429.91 321.84 L427.92 323.05 L425.93 324.39 L423.93 325.88 L421.94 327.49 L419.94 329.2 L417.95 331.02 L415.96 332.93 L413.96 334.92 L411.97 336.97 L409.97 339.05 L407.98 341.16 L405.99 343.25 L405.5 343.76 Z" fill="#add8e6" fill-opacity="0.225"/>
<path d="M304.3 385.2 L306.29 384.44 L308.29 383.67 L310.28 382.89 L312.28 382.1 L314.27 381.29 L316.26 380.46 L318.26 379.6 L320.25 378.72 L322.24 377.8 L324.24 376.86 L326.23 375.88 L328.23 374.87 L330.22 373.85 L332.21 372.8 L334.21 371.73 L336.2 370.64 L338.2 369.53 L340.19 368.4 L342.18 367.24 L344.18 366.05 L346.17 364.83 L348.16 363.56 L350.16 362.24 L352.15 360.86 L354.15 359.43 L356.14 357.96 L358.13 356.45 L360.13 354.91 L362.12 353.34 L364.12 351.75 L366.11 350.13 L368.1 348.48 L370.1 346.79 L372.09 345.05 L374.09 343.24 L376.08 341.38 L378.07 339.46 L380.07 337.5 L382.06 335.53 L384.05 333.54 L386.05 331.56 L388.04 329.57 L390.04 327.58 L392.03 325.6 L394.02 323.61 L396.02 321.6 L398.01 319.58 L400.01 317.56 L402 315.54 L403.99 313.53 L405.99 311.53 L407.98 309.55 L409.97 307.59 L411.97 305.68 L413.96 303.86 L415.96 302.14 L417.95 300.57 L419.94 299.15 L421.94 297.83 L423.93 296.59 L425.93 295.37 L427.92 294.17 L429.91 292.98 L431.91 291.83 L433.9 290.73 L435.89 289.69 L437.89 288.72 L439.88 287.82 L441.88 287.01 L443.87 286.28 L445.86 285.64 L447.86 285.08 L449.85 284.61 L451.85 284.22 L453.84 283.91 L455.83 283.66 L457.83 283.47 L459.82 283.34 L461.81 283.26 L463.81 283.24 L465.8 283.26 L467.8 283.34 L469.79 283.48 L471.78 283.66 L473.78 283.91 L475.77 284.22 L477.77 284.6 L479.76 285.04 L481.75 285.55 L483.75 286.14 L485.74 286.79 L487.74 287.51 L489.73 288.3 L491.72 289.16 L493.72 290.07 L495.71 291.02 L497.7 292.01 L499.7 293.03 L501.69 294.06 L503.69 295.09 L505.68 296.13 L507.67 297.17 L509.67 298.21 L511.66 299.26 L513.66 300.31 L515.65 301.36 L517.64 302.44 L519.64 303.52 L521.63 304.63 L523.62 305.75 L525.62 306.89 L527.61 308.05 L529.61 309.22 L531.6 310.41" fill="none" stroke="#5b8fe0" stroke-width="0.3" stroke-opacity="0.9"/>
<path d="M304.3 410.5 L306.29 409.89 L308.29 409.28 L310.28 408.65 L312.28 408.01 L314.27 407.34 L316.26 406.65 L318.26 405.94 L320.25 405.21 L322.24 404.45 L324.24 403.67 L326.23 402.87 L328.23 402.05 L330.22 401.19 L332.21 400.31 L334.21 399.39 L336.2 398.44 L338.2 397.46 L340.19 396.44 L342.18 395.4 L344.18 394.32 L346.17 393.2 L348.16 392.05 L350.16 390.87 L352.15 389.65 L354.15 388.4 L356.14 387.13 L358.13 385.82 L360.13 384.5 L362.12 383.16 L364.12 381.82 L366.11 380.51 L368.1 379.22 L370.1 377.93 L372.09 376.59 L374.09 375.18 L376.08 373.64 L378.07 371.99 L380.07 370.22 L382.06 368.33 L384.05 366.35 L386.05 364.27 L388.04 362.12 L390.04 359.93 L392.03 357.73 L394.02 355.57 L396.02 353.46 L398.01 351.41 L400.01 349.39 L402 347.37 L403.99 345.33 L405.99 343.25 L407.98 341.16 L409.97 339.05 L411.97 336.97 L413.96 334.92 L415.96 332.93 L417.95 331.02 L419.94 329.2 L421.94 327.49 L423.93 325.88 L425.93 324.39 L427.92 323.05 L429.91 321.84 L431.91 320.77 L433.9 319.78 L435.89 318.86 L437.89 317.96 L439.88 317.1 L441.88 316.26 L443.87 315.46 L445.86 314.71 L447.86 314.03 L449.85 313.43 L451.85 312.91 L453.84 312.48 L455.83 312.12 L457.83 311.83 L459.82 311.62 L461.81 311.48 L463.81 311.42 L465.8 311.43 L467.8 311.52 L469.79 311.67 L471.78 311.88 L473.78 312.17 L475.77 312.54 L477.77 313 L479.76 313.55 L481.75 314.19 L483.75 314.92 L485.74 315.72 L487.74 316.6 L489.73 317.55 L491.72 318.56 L493.72 319.63 L495.71 320.74 L497.7 321.88 L499.7 323.06 L501.69 324.27 L503.69 325.49 L505.68 326.73 L507.67 327.98 L509.67 329.22 L511.66 330.45 L513.66 331.67 L515.65 332.86 L517.64 334.03 L519.64 335.17 L521.63 336.28 L523.62 337.36 L525.62 338.42 L527.61 339.46 L529.61 340.48 L531.6 341.49" fill="none" stroke="#5b8fe0" stroke-width="0.3" stroke-opacity="0.9"/>
<path d="M304.3 385.2 L306.29 384.44 L308.29 383.67 L310.28 382.89 L312.28 382.1 L314.27 381.29 L316.26 380.46 L318.26 379.6 L320.25 378.72 L322.24 377.8 L324.24 376.86 L326.23 375.88 L328.23 374.87 L330.22 373.85 L332.21 372.8 L334.21 371.73 L336.2 370.64 L338.2 369.53 L340.19 368.4 L342.18 367.24 L344.18 366.05 L346.17 364.83 L348.16 363.56 L350.16 362.24 L352.15 360.86 L354.15 359.43 L356.14 357.96 L358.13 356.45 L360.13 354.91 L362.12 353.34 L364.12 351.75 L366.11 350.13 L368.1 348.48 L370.1 346.79 L372.09 345.05 L374.09 343.24 L376.08 341.38 L378.07 339.46 L380.07 337.5 L382.06 335.53 L384.05 333.54 L386.05 331.56 L388.04 329.57 L390.04 327.58 L392.03 325.6 L394.02 323.61 L396.02 321.6 L398.01 319.58 L400.01 317.56 L402 315.54 L403.99 313.53 L405.99 311.53 L407.98 309.55 L409.97 307.59 L411.97 305.68 L413.96 303.86 L415.96 302.14 L417.95 300.57 L419.94 299.15 L421.94 297.83 L423.93 296.59 L425.93 295.37 L427.92 294.17 L429.91 292.98 L431.91 291.83 L433.9 290.73 L435.89 289.69 L437.89 288.72 L439.88 287.82 L441.88 287.01 L443.87 286.28 L445.86 285.64 L447.86 285.08 L449.85 284.61 L451.85 284.22 L453.84 283.91 L455.83 283.66 L457.83 283.47 L459.82 283.34 L461.81 283.26 L463.81 283.24 L465.8 283.26 L467.8 283.34 L469.79 283.48 L471.78 283.66 L473.78 283.91 L475.77 284.22 L477.77 284.6 L479.76 285.04 L481.75 285.55 L483.75 286.14 L485.74 286.79 L487.74 287.51 L489.73 288.3 L491.72 289.16 L493.72 290.07 L495.71 291.02 L497.7 292.01 L499.7 293.03 L501.69 294.06 L503.69 295.09 L505.68 296.13 L507.67 297.17 L509.67 298.21 L511.66 299.26 L513.66 300.31 L515.65 301.36 L517.64 302.44 L519.64 303.52 L521.63 304.63 L523.62 305.75 L525.62 306.89 L527.61 308.05 L529.61 309.22 L531.6 310.41" fill="none" stroke="#2a2f6e" stroke-width="0.32" stroke-dasharray="1.5 0.6" stroke-opacity="0.85"/>
<path d="M304.3 410.5 L306.29 409.89 L308.29 409.28 L310.28 408.65 L312.28 408.01 L314.27 407.34 L316.26 406.65 L318.26 405.94 L320.25 405.21 L322.24 404.45 L324.24 403.67 L326.23 402.87 L328.23 402.05 L330.22 401.19 L332.21 400.31 L334.21 399.39 L336.2 398.44 L338.2 397.46 L340.19 396.44 L342.18 395.4 L344.18 394.32 L346.17 393.2 L348.16 392.05 L350.16 390.87 L352.15 389.65 L354.15 388.4 L356.14 387.13 L358.13 385.82 L360.13 384.5 L362.12 383.16 L364.12 381.82 L366.11 380.51 L368.1 379.22 L370.1 377.93 L372.09 376.59 L374.09 375.18 L376.08 373.64 L378.07 371.99 L380.07 370.22 L382.06 368.33 L384.05 366.35 L386.05 364.27 L388.04 362.12 L390.04 359.93 L392.03 357.73 L394.02 355.57 L396.02 353.46 L398.01 351.41 L400.01 349.39 L402 347.37 L403.99 345.33 L405.99 343.25 L407.98 341.16 L409.97 339.05 L411.97 336.97 L413.96 334.92 L415.96 332.93 L417.95 331.02 L419.94 329.2 L421.94 327.49 L423.93 325.88 L425.93 324.39 L427.92 323.05 L429.91 321.84 L431.91 320.77 L433.9 319.78 L435.89 318.86 L437.89 317.96 L439.88 317.1 L441.88 316.26 L443.87 315.46 L445.86 314.71 L447.86 314.03 L449.85 313.43 L451.85 312.91 L453.84 312.48 L455.83 312.12 L457.83 311.83 L459.82 311.62 L461.81 311.48 L463.81 311.42 L465.8 311.43 L467.8 311.52 L469.79 311.67 L471.78 311.88 L473.78 312.17 L475.77 312.54 L477.77 313 L479.76 313.55 L481.75 314.19 L483.75 314.92 L485.74 315.72 L487.74 316.6 L489.73 317.55 L491.72 318.56 L493.72 319.63 L495.71 320.74 L497.7 321.88 L499.7 323.06 L501.69 324.27 L503.69 325.49 L505.68 326.73 L507.67 327.98 L509.67 329.22 L511.66 330.45 L513.66 331.67 L515.65 332.86 L517.64 334.03 L519.64 335.17 L521.63 336.28 L523.62 337.36 L525.62 338.42 L527.61 339.46 L529.61 340.48 L531.6 341.49" fill="none" stroke="#2a2f6e" stroke-width="0.32" stroke-dasharray="1.5 0.6" stroke-opacity="0.85"/>
<path d="M304.3 397.6 L306.29 396.92 L308.29 396.25 L310.28 395.56 L312.28 394.85 L314.27 394.13 L316.26 393.39 L318.26 392.63 L320.25 391.85 L322.24 391.05 L324.24 390.23 L326.23 389.39 L328.23 388.52 L330.22 387.62 L332.21 386.69 L334.21 385.73 L336.2 384.73 L338.2 383.69 L340.19 382.6 L342.18 381.47 L344.18 380.3 L346.17 379.09 L348.16 377.84 L350.16 376.56 L352.15 375.24 L354.15 373.89 L356.14 372.51 L358.13 371.08 L360.13 369.61 L362.12 368.09 L364.12 366.54 L366.11 364.93 L368.1 363.28 L370.1 361.58 L372.09 359.83 L374.09 358.06 L376.08 356.26 L378.07 354.46 L380.07 352.65 L382.06 350.83 L384.05 349 L386.05 347.16 L388.04 345.29 L390.04 343.37 L392.03 341.41 L394.02 339.41 L396.02 337.39 L398.01 335.37 L400.01 333.36 L402 331.38 L403.99 329.42 L405.99 327.49 L407.98 325.61 L409.97 323.79 L411.97 322.02 L413.96 320.33 L415.96 318.71 L417.95 317.16 L419.94 315.65 L421.94 314.18 L423.93 312.72 L425.93 311.28 L427.92 309.86 L429.91 308.47 L431.91 307.13 L433.9 305.86 L435.89 304.66 L437.89 303.56 L439.88 302.55 L441.88 301.63 L443.87 300.8 L445.86 300.06 L447.86 299.4 L449.85 298.83 L451.85 298.34 L453.84 297.95 L455.83 297.63 L457.83 297.4 L459.82 297.23 L461.81 297.13 L463.81 297.09 L465.8 297.12 L467.8 297.21 L469.79 297.35 L471.78 297.55 L473.78 297.8 L475.77 298.11 L477.77 298.48 L479.76 298.91 L481.75 299.39 L483.75 299.94 L485.74 300.55 L487.74 301.23 L489.73 301.99 L491.72 302.81 L493.72 303.69 L495.71 304.62 L497.7 305.59 L499.7 306.6 L501.69 307.65 L503.69 308.73 L505.68 309.84 L507.67 310.99 L509.67 312.16 L511.66 313.35 L513.66 314.56 L515.65 315.78 L517.64 317.02 L519.64 318.27 L521.63 319.54 L523.62 320.82 L525.62 322.12 L527.61 323.43 L529.61 324.76 L531.6 326.11" fill="none" stroke="#5a96eb" stroke-width="0.95"/>
<g><text x="283" y="238.6" font-size="8.2" font-weight="bold" fill="#000">D</text><text x="293.2" y="233.3" font-size="5.65" fill="#000" stroke="#000" stroke-width="0.12">Broadleaf Adult</text><text x="295.2" y="245.5" font-size="4.3" fill="#1a1a1a" stroke="#1a1a1a" stroke-width="0.08">R² = 0.371</text><text x="295.2" y="251.5" font-size="4.3" fill="#1a1a1a" stroke="#1a1a1a" stroke-width="0.08">m = 0.806</text><text x="372.6" y="424.7" font-size="3.4" fill="#3d3d3d" stroke="#3d3d3d" stroke-width="0.06" text-anchor="middle">−3</text><text x="457.6" y="424.7" font-size="3.4" fill="#3d3d3d" stroke="#3d3d3d" stroke-width="0.06" text-anchor="middle">−2</text><text x="542.6" y="424.7" font-size="3.4" fill="#3d3d3d" stroke="#3d3d3d" stroke-width="0.06" text-anchor="middle">−1</text><text x="289.9" y="389.6" font-size="3.4" fill="#3d3d3d" stroke="#3d3d3d" stroke-width="0.06" text-anchor="end">0.25</text><text x="289.9" y="341.98" font-size="3.4" fill="#3d3d3d" stroke="#3d3d3d" stroke-width="0.06" text-anchor="end">0.5</text><text x="289.9" y="294.35" font-size="3.4" fill="#3d3d3d" stroke="#3d3d3d" stroke-width="0.06" text-anchor="end">0.75</text><text x="289.9" y="246.72" font-size="3.4" fill="#3d3d3d" stroke="#3d3d3d" stroke-width="0.06" text-anchor="end">1</text><text x="417.7" y="430.6" font-size="4.68" fill="#1a1a1a" stroke="#1a1a1a" stroke-width="0.08" text-anchor="middle">Log10(Mean Relative Abundance)</text><text transform="translate(280.4 328) rotate(-90)" font-size="4.8" fill="#1a1a1a" stroke="#1a1a1a" stroke-width="0.08" text-anchor="middle">Occurrence Frequency</text><text x="369.1" y="443.3" font-size="4.65" fill="#1a1a1a" stroke="#1a1a1a" stroke-width="0.08">point_category</text><rect x="403.3" y="438.7" width="6" height="6" fill="#eef8fb" stroke="#a8dbea" stroke-width="0.55"/><circle cx="406.2" cy="441.7" r="0.8" fill="#9edbe8"/><text x="412.1" y="442.95" font-size="3.65" fill="#1a1a1a" stroke="#1a1a1a" stroke-width="0.07">Above</text><rect x="425.6" y="438.7" width="6" height="6" fill="#edf4fb" stroke="#e6eaf8" stroke-width="0.4"/><circle cx="428.5" cy="441.7" r="0.8" fill="#d9d9f5"/><text x="434.4" y="442.95" font-size="3.65" fill="#1a1a1a" stroke="#1a1a1a" stroke-width="0.07">Below</text><rect x="446.45" y="438.4" width="6.5" height="6.5" fill="#f1f8fb" stroke="#3a3a3a" stroke-width="0.65"/><circle cx="449.7" cy="441.7" r="1.0" fill="#24272b"/><text x="455.6" y="442.95" font-size="3.65" fill="#1a1a1a" stroke="#1a1a1a" stroke-width="0.07">Center</text></g>
</svg></body></html>
